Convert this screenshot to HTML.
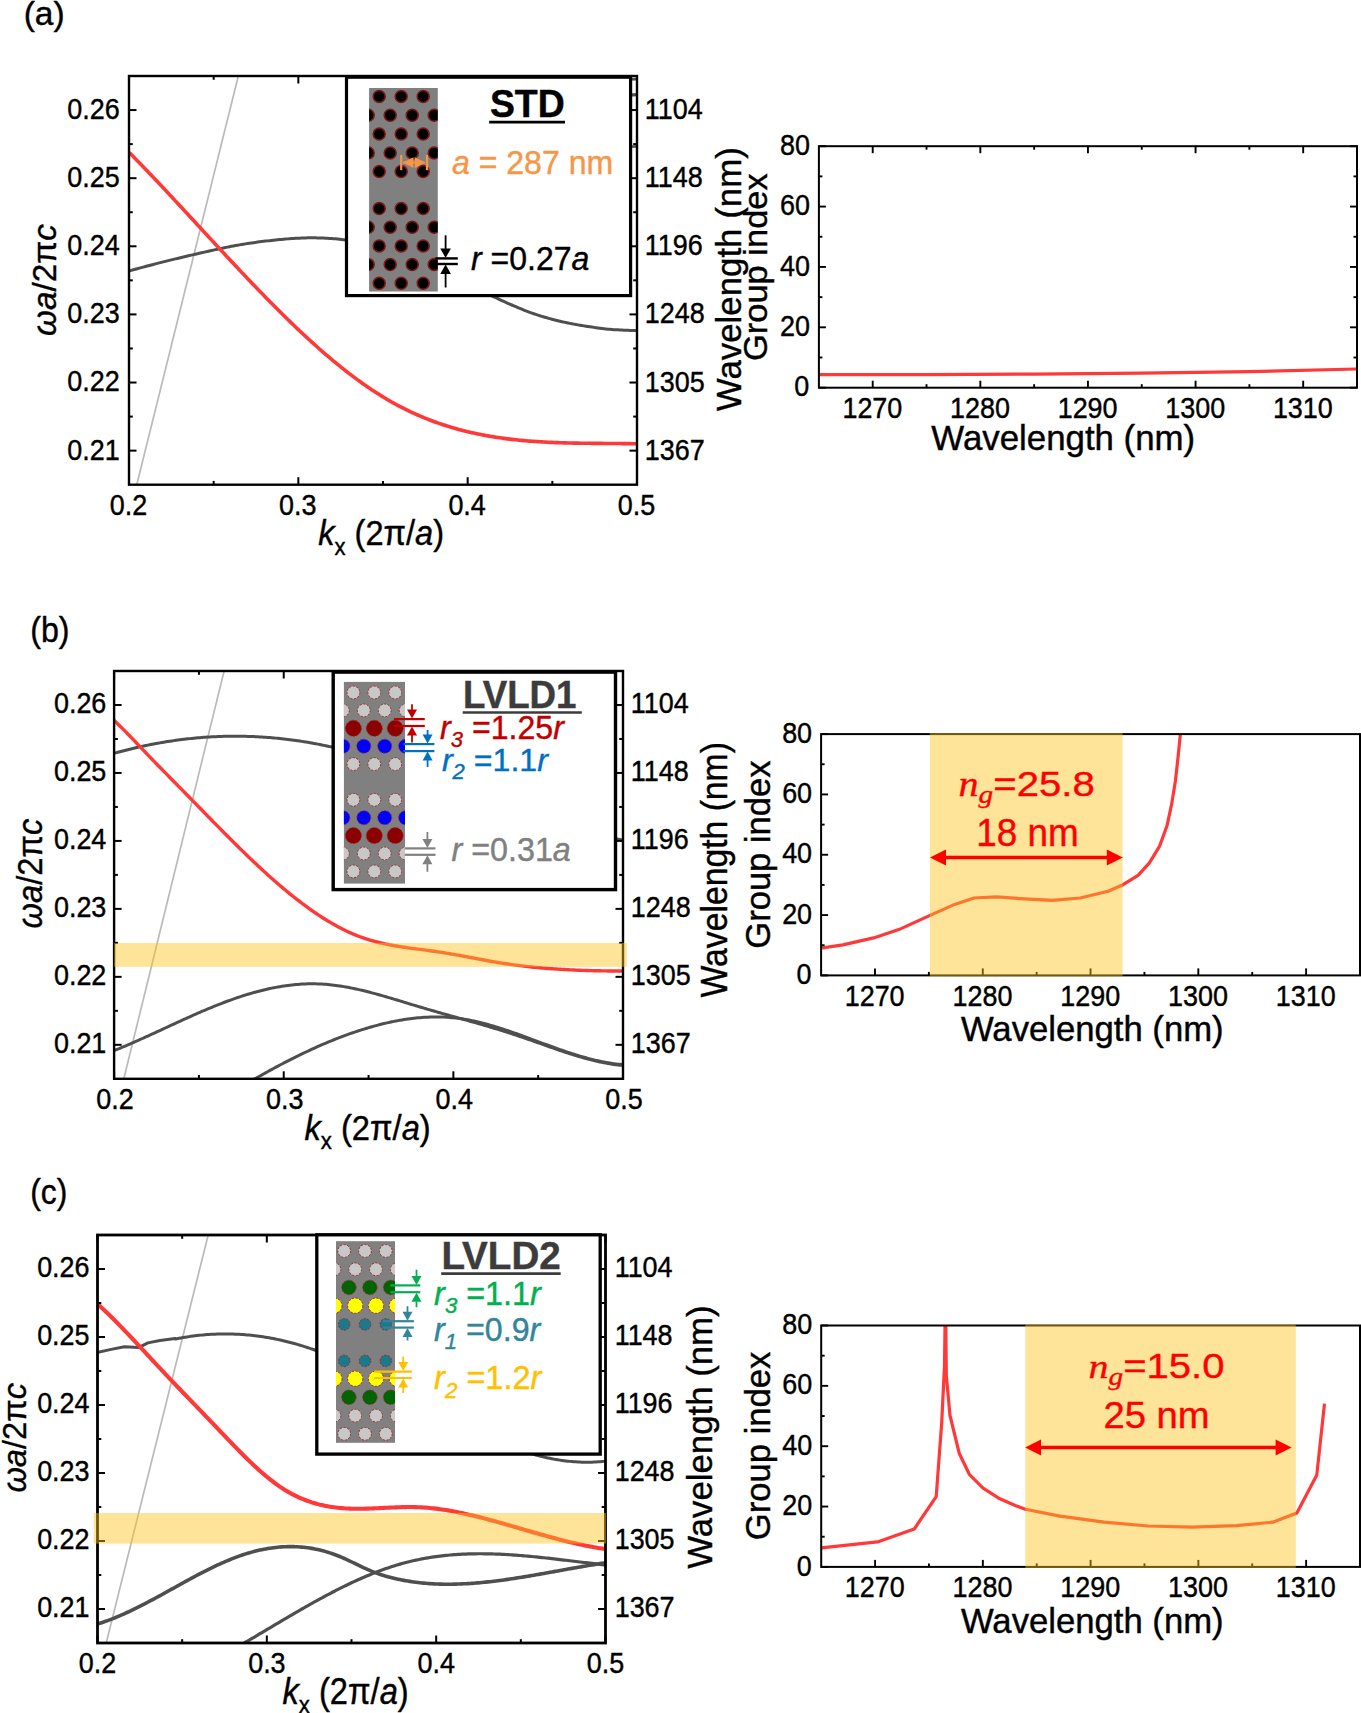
<!DOCTYPE html>
<html><head><meta charset="utf-8"><style>
html,body{margin:0;padding:0;background:#fff;overflow:hidden;}
svg{display:block;font-family:"Liberation Sans", sans-serif;}
</style></head><body>
<svg width="1361" height="1713" viewBox="0 0 1361 1713">
<rect width="1361" height="1713" fill="#fff"/>
<g transform="matrix(0.9868 0 0 1.0000 -272.33 -274.70)"><text stroke="#000" stroke-width="0.4" x="300" y="300" font-size="34">(a)</text></g>
<clipPath id="ca"><rect x="129" y="76" width="508" height="408.7"/></clipPath>
<g clip-path="url(#ca)">
<path d="M136.7 485 L238.3 76" fill="none" stroke="#bababa" stroke-width="1.7" stroke-linejoin="round"/>
<path d="M129.3 270.9 L131.3 270.34 L133.31 269.79 L135.31 269.24 L137.31 268.7 L139.31 268.15 L141.32 267.61 L143.32 267.08 L145.32 266.54 L147.32 266.01 L149.33 265.48 L151.33 264.96 L153.33 264.44 L155.34 263.92 L157.34 263.4 L159.34 262.89 L161.34 262.38 L163.35 261.88 L165.35 261.37 L167.35 260.87 L169.36 260.38 L171.36 259.88 L173.36 259.39 L175.36 258.91 L177.37 258.42 L179.37 257.94 L181.37 257.46 L183.37 256.99 L185.38 256.52 L187.38 256.05 L189.38 255.58 L191.39 255.12 L193.39 254.66 L195.39 254.21 L197.39 253.75 L199.4 253.29 L201.4 252.83 L203.4 252.37 L205.4 251.91 L207.41 251.46 L209.41 251.01 L211.41 250.55 L213.42 250.11 L215.42 249.66 L217.42 249.23 L219.42 248.79 L221.43 248.36 L223.43 247.94 L225.43 247.53 L227.44 247.12 L229.44 246.72 L231.44 246.33 L233.44 245.94 L235.45 245.57 L237.45 245.21 L239.45 244.86 L241.45 244.52 L243.46 244.19 L245.46 243.87 L247.46 243.56 L249.47 243.26 L251.47 242.96 L253.47 242.67 L255.47 242.39 L257.48 242.11 L259.48 241.85 L261.48 241.59 L263.48 241.34 L265.49 241.11 L267.49 240.88 L269.49 240.65 L271.5 240.44 L273.5 240.23 L275.5 240.02 L277.5 239.81 L279.51 239.61 L281.51 239.41 L283.51 239.22 L285.51 239.05 L287.52 238.88 L289.52 238.73 L291.52 238.59 L293.53 238.47 L295.53 238.37 L297.53 238.27 L299.53 238.17 L301.54 238.08 L303.54 237.99 L305.54 237.92 L307.55 237.86 L309.55 237.82 L311.55 237.8 L313.55 237.81 L315.56 237.83 L317.56 237.88 L319.56 237.94 L321.56 238.01 L323.57 238.1 L325.57 238.19 L327.57 238.28 L329.58 238.38 L331.58 238.52 L333.58 238.68 L335.58 238.86 L337.59 239.07 L339.59 239.29 L341.59 239.53 L343.59 239.78 L345.6 240.04 L347.6 240.31 L349.6 240.61 L351.61 240.92 L353.61 241.26 L355.61 241.61 L357.61 241.98 L359.62 242.37 L361.62 242.78 L363.62 243.21 L365.63 243.65 L367.63 244.1 L369.63 244.57 L371.63 245.05 L373.64 245.55 L375.64 246.06 L377.64 246.58 L379.64 247.11 L381.65 247.65 L383.65 248.2 L385.65 248.77 L387.66 249.34 L389.66 249.91 L391.66 250.5 L393.66 251.09 L395.67 251.69 L397.67 252.29 L399.67 252.9 L401.67 253.52 L403.68 254.17 L405.68 254.85 L407.68 255.55 L409.69 256.27 L411.69 257.02 L413.69 257.79 L415.69 258.59 L417.7 259.4 L419.7 260.23 L421.7 261.07 L423.71 261.93 L425.71 262.8 L427.71 263.69 L429.71 264.59 L431.72 265.5 L433.72 266.41 L435.72 267.33 L437.72 268.26 L439.73 269.2 L441.73 270.13 L443.73 271.07 L445.74 272.01 L447.74 272.94 L449.74 273.88 L451.74 274.82 L453.75 275.79 L455.75 276.78 L457.75 277.79 L459.75 278.82 L461.76 279.86 L463.76 280.92 L465.76 281.99 L467.77 283.07 L469.77 284.15 L471.77 285.24 L473.77 286.33 L475.78 287.42 L477.78 288.51 L479.78 289.59 L481.79 290.66 L483.79 291.73 L485.79 292.78 L487.79 293.82 L489.8 294.84 L491.8 295.84 L493.8 296.82 L495.8 297.77 L497.81 298.72 L499.81 299.65 L501.81 300.57 L503.82 301.48 L505.82 302.38 L507.82 303.27 L509.82 304.14 L511.83 305 L513.83 305.85 L515.83 306.7 L517.83 307.55 L519.84 308.38 L521.84 309.21 L523.84 310.03 L525.85 310.82 L527.85 311.6 L529.85 312.35 L531.85 313.07 L533.86 313.76 L535.86 314.43 L537.86 315.09 L539.86 315.73 L541.87 316.35 L543.87 316.95 L545.87 317.54 L547.88 318.11 L549.88 318.66 L551.88 319.2 L553.88 319.71 L555.89 320.22 L557.89 320.72 L559.89 321.2 L561.9 321.67 L563.9 322.12 L565.9 322.56 L567.9 322.98 L569.91 323.39 L571.91 323.77 L573.91 324.15 L575.91 324.51 L577.92 324.87 L579.92 325.21 L581.92 325.54 L583.93 325.86 L585.93 326.17 L587.93 326.48 L589.93 326.78 L591.94 327.07 L593.94 327.37 L595.94 327.68 L597.94 327.97 L599.95 328.26 L601.95 328.53 L603.95 328.77 L605.96 329 L607.96 329.2 L609.96 329.36 L611.96 329.5 L613.97 329.64 L615.97 329.76 L617.97 329.87 L619.98 329.98 L621.98 330.07 L623.98 330.16 L625.98 330.24 L627.99 330.31 L629.99 330.38 L631.99 330.45 L633.99 330.51 L636 330.56 L638 330.6" fill="none" stroke="#4f4f4f" stroke-width="3" stroke-linejoin="round"/>
<path d="M129.3 152.51 L131.3 154.54 L133.31 156.59 L135.31 158.64 L137.31 160.69 L139.31 162.76 L141.32 164.83 L143.32 166.9 L145.32 168.99 L147.32 171.08 L149.33 173.18 L151.33 175.28 L153.33 177.38 L155.34 179.5 L157.34 181.61 L159.34 183.74 L161.34 185.86 L163.35 188 L165.35 190.13 L167.35 192.27 L169.36 194.41 L171.36 196.56 L173.36 198.71 L175.36 200.86 L177.37 203.02 L179.37 205.18 L181.37 207.34 L183.37 209.5 L185.38 211.66 L187.38 213.83 L189.38 216 L191.39 218.17 L193.39 220.34 L195.39 222.51 L197.39 224.68 L199.4 226.85 L201.4 229.02 L203.4 231.19 L205.4 233.36 L207.41 235.53 L209.41 237.7 L211.41 239.87 L213.42 242.04 L215.42 244.2 L217.42 246.37 L219.42 248.53 L221.43 250.69 L223.43 252.84 L225.43 255 L227.44 257.15 L229.44 259.3 L231.44 261.44 L233.44 263.58 L235.45 265.72 L237.45 267.85 L239.45 269.98 L241.45 272.11 L243.46 274.23 L245.46 276.34 L247.46 278.45 L249.47 280.55 L251.47 282.65 L253.47 284.75 L255.47 286.83 L257.48 288.91 L259.48 290.99 L261.48 293.05 L263.48 295.11 L265.49 297.17 L267.49 299.21 L269.49 301.25 L271.5 303.28 L273.5 305.3 L275.5 307.31 L277.5 309.32 L279.51 311.32 L281.51 313.3 L283.51 315.28 L285.51 317.25 L287.52 319.21 L289.52 321.15 L291.52 323.09 L293.53 325.02 L295.53 326.94 L297.53 328.84 L299.53 330.74 L301.54 332.62 L303.54 334.5 L305.54 336.36 L307.55 338.21 L309.55 340.04 L311.55 341.87 L313.55 343.68 L315.56 345.48 L317.56 347.26 L319.56 349.03 L321.56 350.79 L323.57 352.54 L325.57 354.27 L327.57 355.98 L329.58 357.68 L331.58 359.37 L333.58 361.04 L335.58 362.7 L337.59 364.34 L339.59 365.97 L341.59 367.58 L343.59 369.17 L345.6 370.75 L347.6 372.31 L349.6 373.86 L351.61 375.38 L353.61 376.89 L355.61 378.39 L357.61 379.86 L359.62 381.32 L361.62 382.76 L363.62 384.18 L365.63 385.58 L367.63 386.96 L369.63 388.33 L371.63 389.67 L373.64 391 L375.64 392.3 L377.64 393.59 L379.64 394.85 L381.65 396.1 L383.65 397.32 L385.65 398.53 L387.66 399.71 L389.66 400.87 L391.66 402.01 L393.66 403.13 L395.67 404.23 L397.67 405.31 L399.67 406.37 L401.67 407.41 L403.68 408.42 L405.68 409.42 L407.68 410.4 L409.69 411.36 L411.69 412.31 L413.69 413.23 L415.69 414.13 L417.7 415.02 L419.7 415.88 L421.7 416.73 L423.71 417.56 L425.71 418.38 L427.71 419.17 L429.71 419.95 L431.72 420.71 L433.72 421.46 L435.72 422.19 L437.72 422.9 L439.73 423.59 L441.73 424.27 L443.73 424.93 L445.74 425.58 L447.74 426.21 L449.74 426.83 L451.74 427.43 L453.75 428.02 L455.75 428.59 L457.75 429.14 L459.75 429.69 L461.76 430.22 L463.76 430.73 L465.76 431.23 L467.77 431.72 L469.77 432.19 L471.77 432.65 L473.77 433.1 L475.78 433.53 L477.78 433.95 L479.78 434.36 L481.79 434.76 L483.79 435.14 L485.79 435.52 L487.79 435.88 L489.8 436.23 L491.8 436.56 L493.8 436.89 L495.8 437.21 L497.81 437.51 L499.81 437.81 L501.81 438.09 L503.82 438.37 L505.82 438.63 L507.82 438.89 L509.82 439.13 L511.83 439.37 L513.83 439.59 L515.83 439.81 L517.83 440.02 L519.84 440.22 L521.84 440.41 L523.84 440.6 L525.85 440.77 L527.85 440.94 L529.85 441.1 L531.85 441.25 L533.86 441.4 L535.86 441.54 L537.86 441.67 L539.86 441.79 L541.87 441.91 L543.87 442.03 L545.87 442.13 L547.88 442.23 L549.88 442.33 L551.88 442.42 L553.88 442.5 L555.89 442.58 L557.89 442.65 L559.89 442.72 L561.9 442.79 L563.9 442.85 L565.9 442.9 L567.9 442.95 L569.91 443 L571.91 443.05 L573.91 443.09 L575.91 443.13 L577.92 443.16 L579.92 443.19 L581.92 443.22 L583.93 443.25 L585.93 443.28 L587.93 443.3 L589.93 443.32 L591.94 443.34 L593.94 443.36 L595.94 443.38 L597.94 443.39 L599.95 443.41 L601.95 443.42 L603.95 443.44 L605.96 443.45 L607.96 443.46 L609.96 443.48 L611.96 443.49 L613.97 443.51 L615.97 443.52 L617.97 443.54 L619.98 443.56 L621.98 443.58 L623.98 443.6 L625.98 443.62 L627.99 443.64 L629.99 443.67 L631.99 443.69 L633.99 443.72 L636 443.76 L638 443.79" fill="none" stroke="#ff3838" stroke-width="3.6" stroke-linejoin="round"/>
<path d="M600 80 L640 79" fill="none" stroke="#4f4f4f" stroke-width="2.6" stroke-linejoin="round"/>
<path d="M600 97 L640 94.5" fill="none" stroke="#4f4f4f" stroke-width="3.2" stroke-linejoin="round"/>
<path d="M600 147 L640 146.4" fill="none" stroke="#4f4f4f" stroke-width="2.6" stroke-linejoin="round"/>
</g>
<line x1="129" y1="450.64" x2="136.5" y2="450.64" stroke="#000" stroke-width="2"/>
<line x1="637" y1="450.64" x2="629.5" y2="450.64" stroke="#000" stroke-width="2"/>
<line x1="129" y1="416.58" x2="132.8" y2="416.58" stroke="#000" stroke-width="2"/>
<line x1="637" y1="416.58" x2="633.2" y2="416.58" stroke="#000" stroke-width="2"/>
<line x1="129" y1="382.53" x2="136.5" y2="382.53" stroke="#000" stroke-width="2"/>
<line x1="637" y1="382.53" x2="629.5" y2="382.53" stroke="#000" stroke-width="2"/>
<line x1="129" y1="348.47" x2="132.8" y2="348.47" stroke="#000" stroke-width="2"/>
<line x1="637" y1="348.47" x2="633.2" y2="348.47" stroke="#000" stroke-width="2"/>
<line x1="129" y1="314.41" x2="136.5" y2="314.41" stroke="#000" stroke-width="2"/>
<line x1="637" y1="314.41" x2="629.5" y2="314.41" stroke="#000" stroke-width="2"/>
<line x1="129" y1="280.35" x2="132.8" y2="280.35" stroke="#000" stroke-width="2"/>
<line x1="637" y1="280.35" x2="633.2" y2="280.35" stroke="#000" stroke-width="2"/>
<line x1="129" y1="246.29" x2="136.5" y2="246.29" stroke="#000" stroke-width="2"/>
<line x1="637" y1="246.29" x2="629.5" y2="246.29" stroke="#000" stroke-width="2"/>
<line x1="129" y1="212.23" x2="132.8" y2="212.23" stroke="#000" stroke-width="2"/>
<line x1="637" y1="212.23" x2="633.2" y2="212.23" stroke="#000" stroke-width="2"/>
<line x1="129" y1="178.18" x2="136.5" y2="178.18" stroke="#000" stroke-width="2"/>
<line x1="637" y1="178.18" x2="629.5" y2="178.18" stroke="#000" stroke-width="2"/>
<line x1="129" y1="144.12" x2="132.8" y2="144.12" stroke="#000" stroke-width="2"/>
<line x1="637" y1="144.12" x2="633.2" y2="144.12" stroke="#000" stroke-width="2"/>
<line x1="129" y1="110.06" x2="136.5" y2="110.06" stroke="#000" stroke-width="2"/>
<line x1="637" y1="110.06" x2="629.5" y2="110.06" stroke="#000" stroke-width="2"/>
<line x1="129" y1="76" x2="132.8" y2="76" stroke="#000" stroke-width="2"/>
<line x1="637" y1="76" x2="633.2" y2="76" stroke="#000" stroke-width="2"/>
<line x1="129" y1="484.7" x2="129" y2="477.2" stroke="#000" stroke-width="2"/>
<line x1="129" y1="76" x2="129" y2="83.5" stroke="#000" stroke-width="2"/>
<line x1="213.67" y1="484.7" x2="213.67" y2="480.9" stroke="#000" stroke-width="2"/>
<line x1="213.67" y1="76" x2="213.67" y2="79.8" stroke="#000" stroke-width="2"/>
<line x1="298.33" y1="484.7" x2="298.33" y2="477.2" stroke="#000" stroke-width="2"/>
<line x1="298.33" y1="76" x2="298.33" y2="83.5" stroke="#000" stroke-width="2"/>
<line x1="383" y1="484.7" x2="383" y2="480.9" stroke="#000" stroke-width="2"/>
<line x1="383" y1="76" x2="383" y2="79.8" stroke="#000" stroke-width="2"/>
<line x1="467.67" y1="484.7" x2="467.67" y2="477.2" stroke="#000" stroke-width="2"/>
<line x1="467.67" y1="76" x2="467.67" y2="83.5" stroke="#000" stroke-width="2"/>
<line x1="552.33" y1="484.7" x2="552.33" y2="480.9" stroke="#000" stroke-width="2"/>
<line x1="552.33" y1="76" x2="552.33" y2="79.8" stroke="#000" stroke-width="2"/>
<line x1="637" y1="484.7" x2="637" y2="477.2" stroke="#000" stroke-width="2"/>
<line x1="637" y1="76" x2="637" y2="83.5" stroke="#000" stroke-width="2"/>
<rect x="129" y="76" width="508" height="408.7" fill="none" stroke="#000" stroke-width="2.4"/>
<g transform="matrix(0.9620 0 0 1.0580 -221.35 142.19)"><text stroke="#000" stroke-width="0.4" x="300" y="300" font-size="28">0.21</text></g>
<g transform="matrix(0.9620 0 0 1.0580 -221.35 74.08)"><text stroke="#000" stroke-width="0.4" x="300" y="300" font-size="28">0.22</text></g>
<g transform="matrix(0.9620 0 0 1.0580 -221.35 5.96)"><text stroke="#000" stroke-width="0.4" x="300" y="300" font-size="28">0.23</text></g>
<g transform="matrix(0.9620 0 0 1.0580 -221.35 -62.16)"><text stroke="#000" stroke-width="0.4" x="300" y="300" font-size="28">0.24</text></g>
<g transform="matrix(0.9620 0 0 1.0580 -221.35 -130.27)"><text stroke="#000" stroke-width="0.4" x="300" y="300" font-size="28">0.25</text></g>
<g transform="matrix(0.9620 0 0 1.0580 -221.35 -198.39)"><text stroke="#000" stroke-width="0.4" x="300" y="300" font-size="28">0.26</text></g>
<g transform="matrix(0.9620 0 0 1.0580 356.18 142.29)"><text stroke="#000" stroke-width="0.4" x="300" y="300" font-size="28">1367</text></g>
<g transform="matrix(0.9620 0 0 1.0580 356.18 74.18)"><text stroke="#000" stroke-width="0.4" x="300" y="300" font-size="28">1305</text></g>
<g transform="matrix(0.9620 0 0 1.0580 356.18 6.06)"><text stroke="#000" stroke-width="0.4" x="300" y="300" font-size="28">1248</text></g>
<g transform="matrix(0.9620 0 0 1.0580 356.18 -62.06)"><text stroke="#000" stroke-width="0.4" x="300" y="300" font-size="28">1196</text></g>
<g transform="matrix(0.9620 0 0 1.0580 356.18 -130.17)"><text stroke="#000" stroke-width="0.4" x="300" y="300" font-size="28">1148</text></g>
<g transform="matrix(0.9620 0 0 1.0580 356.18 -198.29)"><text stroke="#000" stroke-width="0.4" x="300" y="300" font-size="28">1104</text></g>
<g transform="matrix(0.9620 0 0 1.0580 -178.86 197.70)"><text stroke="#000" stroke-width="0.4" x="300" y="300" font-size="28">0.2</text></g>
<g transform="matrix(0.9620 0 0 1.0580 -9.53 197.70)"><text stroke="#000" stroke-width="0.4" x="300" y="300" font-size="28">0.3</text></g>
<g transform="matrix(0.9620 0 0 1.0580 159.81 197.70)"><text stroke="#000" stroke-width="0.4" x="300" y="300" font-size="28">0.4</text></g>
<g transform="matrix(0.9620 0 0 1.0580 329.14 197.70)"><text stroke="#000" stroke-width="0.4" x="300" y="300" font-size="28">0.5</text></g>
<g transform="matrix(0.9585 0 0 1.0515 30.66 229.78)"><text stroke="#000" stroke-width="0.4" x="300" y="300" font-size="34"><tspan font-style="italic">k</tspan><tspan font-size="23" dy="9">x</tspan><tspan dy="-9"> (2π/</tspan><tspan font-style="italic">a</tspan>)</text></g>
<g transform="matrix(0.9481 0 0 0.9252 -228.34 58.36)"><text stroke="#000" stroke-width="0.4" x="300" y="300" font-size="36" transform="rotate(-90 300 300)"><tspan font-style="italic">ωa</tspan>/2π<tspan font-style="italic">c</tspan></text></g>
<rect x="346.5" y="77.2" width="284.1" height="218.4" fill="#fff" stroke="#000" stroke-width="3.2"/>
<clipPath id="pcA"><rect x="369.1" y="88" width="68.7" height="203.5"/></clipPath>
<rect x="369.1" y="88" width="68.7" height="203.5" fill="#808080"/>
<g clip-path="url(#pcA)">
<circle cx="379.2" cy="96.4" r="6" fill="#000" stroke="#801818" stroke-width="1.5"/>
<circle cx="401.2" cy="96.4" r="6" fill="#000" stroke="#801818" stroke-width="1.5"/>
<circle cx="423.2" cy="96.4" r="6" fill="#000" stroke="#801818" stroke-width="1.5"/>
<circle cx="368.2" cy="115.2" r="6" fill="#000" stroke="#801818" stroke-width="1.5"/>
<circle cx="390.2" cy="115.2" r="6" fill="#000" stroke="#801818" stroke-width="1.5"/>
<circle cx="412.2" cy="115.2" r="6" fill="#000" stroke="#801818" stroke-width="1.5"/>
<circle cx="434.2" cy="115.2" r="6" fill="#000" stroke="#801818" stroke-width="1.5"/>
<circle cx="379.2" cy="134.1" r="6" fill="#000" stroke="#801818" stroke-width="1.5"/>
<circle cx="401.2" cy="134.1" r="6" fill="#000" stroke="#801818" stroke-width="1.5"/>
<circle cx="423.2" cy="134.1" r="6" fill="#000" stroke="#801818" stroke-width="1.5"/>
<circle cx="368.2" cy="152.9" r="6" fill="#000" stroke="#801818" stroke-width="1.5"/>
<circle cx="390.2" cy="152.9" r="6" fill="#000" stroke="#801818" stroke-width="1.5"/>
<circle cx="412.2" cy="152.9" r="6" fill="#000" stroke="#801818" stroke-width="1.5"/>
<circle cx="434.2" cy="152.9" r="6" fill="#000" stroke="#801818" stroke-width="1.5"/>
<circle cx="379.2" cy="171.6" r="6" fill="#000" stroke="#801818" stroke-width="1.5"/>
<circle cx="401.2" cy="171.6" r="6" fill="#000" stroke="#801818" stroke-width="1.5"/>
<circle cx="423.2" cy="171.6" r="6" fill="#000" stroke="#801818" stroke-width="1.5"/>
<circle cx="379.2" cy="208.6" r="6" fill="#000" stroke="#801818" stroke-width="1.5"/>
<circle cx="401.2" cy="208.6" r="6" fill="#000" stroke="#801818" stroke-width="1.5"/>
<circle cx="423.2" cy="208.6" r="6" fill="#000" stroke="#801818" stroke-width="1.5"/>
<circle cx="368.2" cy="227.2" r="6" fill="#000" stroke="#801818" stroke-width="1.5"/>
<circle cx="390.2" cy="227.2" r="6" fill="#000" stroke="#801818" stroke-width="1.5"/>
<circle cx="412.2" cy="227.2" r="6" fill="#000" stroke="#801818" stroke-width="1.5"/>
<circle cx="434.2" cy="227.2" r="6" fill="#000" stroke="#801818" stroke-width="1.5"/>
<circle cx="379.2" cy="245.9" r="6" fill="#000" stroke="#801818" stroke-width="1.5"/>
<circle cx="401.2" cy="245.9" r="6" fill="#000" stroke="#801818" stroke-width="1.5"/>
<circle cx="423.2" cy="245.9" r="6" fill="#000" stroke="#801818" stroke-width="1.5"/>
<circle cx="368.2" cy="264.6" r="6" fill="#000" stroke="#801818" stroke-width="1.5"/>
<circle cx="390.2" cy="264.6" r="6" fill="#000" stroke="#801818" stroke-width="1.5"/>
<circle cx="412.2" cy="264.6" r="6" fill="#000" stroke="#801818" stroke-width="1.5"/>
<circle cx="434.2" cy="264.6" r="6" fill="#000" stroke="#801818" stroke-width="1.5"/>
<circle cx="379.2" cy="283.2" r="6" fill="#000" stroke="#801818" stroke-width="1.5"/>
<circle cx="401.2" cy="283.2" r="6" fill="#000" stroke="#801818" stroke-width="1.5"/>
<circle cx="423.2" cy="283.2" r="6" fill="#000" stroke="#801818" stroke-width="1.5"/>
</g>
<g transform="matrix(1.0111 0 0 1.0692 186.56 -203.37)"><text stroke="#000" stroke-width="0.4" x="300" y="300" font-size="37" font-weight="bold">STD</text></g>
<line x1="489.2" y1="122.1" x2="565" y2="122.1" stroke="#000" stroke-width="2.7"/>
<g transform="matrix(1.0025 0 0 1.0545 151.15 -142.06)"><text stroke="#f79646" stroke-width="0.4" x="300" y="300" font-size="32" fill="#f79646"><tspan font-style="italic">a</tspan> = 287 nm</text></g>
<line x1="403" y1="162.6" x2="425" y2="162.6" stroke="#f79646" stroke-width="1.8"/>
<line x1="401.2" y1="155" x2="401.2" y2="170.2" stroke="#f79646" stroke-width="2.2"/>
<line x1="427" y1="155" x2="427" y2="170.2" stroke="#f79646" stroke-width="2.2"/>
<path d="M402.8 162.6 L413.4 157.2 L413.4 168Z" fill="#f79646"/>
<path d="M425.4 162.6 L414.8 157.2 L414.8 168Z" fill="#f79646"/>
<g transform="matrix(1.0000 0 0 1.0500 171.00 -44.70)"><text stroke="#000" stroke-width="0.4" x="300" y="300" font-size="32"><tspan font-style="italic">r</tspan> =0.27<tspan font-style="italic">a</tspan></text></g>
<line x1="435.3" y1="258.4" x2="457.8" y2="258.4" stroke="#000" stroke-width="2.4"/>
<line x1="435.3" y1="264" x2="457.8" y2="264" stroke="#000" stroke-width="2.4"/>
<line x1="445.6" y1="235.3" x2="445.6" y2="248.9" stroke="#000" stroke-width="1.8"/>
<line x1="445.6" y1="273.5" x2="445.6" y2="287.5" stroke="#000" stroke-width="1.8"/>
<path d="M445.6 257.9 L440.3 248.4 L450.9 248.4Z" fill="#000"/>
<path d="M445.6 264.5 L440.3 274 L450.9 274Z" fill="#000"/>
<clipPath id="ra"><rect x="818.9" y="146.2" width="538.1" height="241.5"/></clipPath>
<g clip-path="url(#ra)">
<path d="M818.9 374.72 L926.52 374.57 L1034.14 374.12 L1141.76 373.21 L1249.38 371.7 L1357 368.98" fill="none" stroke="#ff3838" stroke-width="3.2" stroke-linejoin="round"/>
</g>
<line x1="818.9" y1="387.7" x2="825.9" y2="387.7" stroke="#000" stroke-width="1.9"/>
<line x1="1357" y1="387.7" x2="1350" y2="387.7" stroke="#000" stroke-width="1.9"/>
<line x1="818.9" y1="357.51" x2="822.4" y2="357.51" stroke="#000" stroke-width="1.9"/>
<line x1="1357" y1="357.51" x2="1353.5" y2="357.51" stroke="#000" stroke-width="1.9"/>
<line x1="818.9" y1="327.32" x2="825.9" y2="327.32" stroke="#000" stroke-width="1.9"/>
<line x1="1357" y1="327.32" x2="1350" y2="327.32" stroke="#000" stroke-width="1.9"/>
<line x1="818.9" y1="297.14" x2="822.4" y2="297.14" stroke="#000" stroke-width="1.9"/>
<line x1="1357" y1="297.14" x2="1353.5" y2="297.14" stroke="#000" stroke-width="1.9"/>
<line x1="818.9" y1="266.95" x2="825.9" y2="266.95" stroke="#000" stroke-width="1.9"/>
<line x1="1357" y1="266.95" x2="1350" y2="266.95" stroke="#000" stroke-width="1.9"/>
<line x1="818.9" y1="236.76" x2="822.4" y2="236.76" stroke="#000" stroke-width="1.9"/>
<line x1="1357" y1="236.76" x2="1353.5" y2="236.76" stroke="#000" stroke-width="1.9"/>
<line x1="818.9" y1="206.57" x2="825.9" y2="206.57" stroke="#000" stroke-width="1.9"/>
<line x1="1357" y1="206.57" x2="1350" y2="206.57" stroke="#000" stroke-width="1.9"/>
<line x1="818.9" y1="176.39" x2="822.4" y2="176.39" stroke="#000" stroke-width="1.9"/>
<line x1="1357" y1="176.39" x2="1353.5" y2="176.39" stroke="#000" stroke-width="1.9"/>
<line x1="818.9" y1="146.2" x2="825.9" y2="146.2" stroke="#000" stroke-width="1.9"/>
<line x1="1357" y1="146.2" x2="1350" y2="146.2" stroke="#000" stroke-width="1.9"/>
<line x1="872.71" y1="387.7" x2="872.71" y2="380.7" stroke="#000" stroke-width="1.9"/>
<line x1="872.71" y1="146.2" x2="872.71" y2="153.2" stroke="#000" stroke-width="1.9"/>
<line x1="926.52" y1="387.7" x2="926.52" y2="384.2" stroke="#000" stroke-width="1.9"/>
<line x1="926.52" y1="146.2" x2="926.52" y2="149.7" stroke="#000" stroke-width="1.9"/>
<line x1="980.33" y1="387.7" x2="980.33" y2="380.7" stroke="#000" stroke-width="1.9"/>
<line x1="980.33" y1="146.2" x2="980.33" y2="153.2" stroke="#000" stroke-width="1.9"/>
<line x1="1034.14" y1="387.7" x2="1034.14" y2="384.2" stroke="#000" stroke-width="1.9"/>
<line x1="1034.14" y1="146.2" x2="1034.14" y2="149.7" stroke="#000" stroke-width="1.9"/>
<line x1="1087.95" y1="387.7" x2="1087.95" y2="380.7" stroke="#000" stroke-width="1.9"/>
<line x1="1087.95" y1="146.2" x2="1087.95" y2="153.2" stroke="#000" stroke-width="1.9"/>
<line x1="1141.76" y1="387.7" x2="1141.76" y2="384.2" stroke="#000" stroke-width="1.9"/>
<line x1="1141.76" y1="146.2" x2="1141.76" y2="149.7" stroke="#000" stroke-width="1.9"/>
<line x1="1195.57" y1="387.7" x2="1195.57" y2="380.7" stroke="#000" stroke-width="1.9"/>
<line x1="1195.57" y1="146.2" x2="1195.57" y2="153.2" stroke="#000" stroke-width="1.9"/>
<line x1="1249.38" y1="387.7" x2="1249.38" y2="384.2" stroke="#000" stroke-width="1.9"/>
<line x1="1249.38" y1="146.2" x2="1249.38" y2="149.7" stroke="#000" stroke-width="1.9"/>
<line x1="1303.19" y1="387.7" x2="1303.19" y2="380.7" stroke="#000" stroke-width="1.9"/>
<line x1="1303.19" y1="146.2" x2="1303.19" y2="153.2" stroke="#000" stroke-width="1.9"/>
<rect x="818.9" y="146.2" width="538.1" height="241.5" fill="none" stroke="#000" stroke-width="2"/>
<g transform="matrix(0.9620 0 0 1.0580 505.77 78.95)"><text stroke="#000" stroke-width="0.4" x="300" y="300" font-size="28">0</text></g>
<g transform="matrix(0.9620 0 0 1.0580 491.34 18.58)"><text stroke="#000" stroke-width="0.4" x="300" y="300" font-size="28">20</text></g>
<g transform="matrix(0.9620 0 0 1.0580 491.34 -41.80)"><text stroke="#000" stroke-width="0.4" x="300" y="300" font-size="28">40</text></g>
<g transform="matrix(0.9620 0 0 1.0580 491.34 -102.17)"><text stroke="#000" stroke-width="0.4" x="300" y="300" font-size="28">60</text></g>
<g transform="matrix(0.9620 0 0 1.0580 491.34 -162.55)"><text stroke="#000" stroke-width="0.4" x="300" y="300" font-size="28">80</text></g>
<g transform="matrix(0.9620 0 0 1.0580 553.83 100.60)"><text stroke="#000" stroke-width="0.4" x="300" y="300" font-size="28">1270</text></g>
<g transform="matrix(0.9620 0 0 1.0580 661.45 100.60)"><text stroke="#000" stroke-width="0.4" x="300" y="300" font-size="28">1280</text></g>
<g transform="matrix(0.9620 0 0 1.0580 769.07 100.60)"><text stroke="#000" stroke-width="0.4" x="300" y="300" font-size="28">1290</text></g>
<g transform="matrix(0.9620 0 0 1.0580 876.69 100.60)"><text stroke="#000" stroke-width="0.4" x="300" y="300" font-size="28">1300</text></g>
<g transform="matrix(0.9620 0 0 1.0580 984.31 100.60)"><text stroke="#000" stroke-width="0.4" x="300" y="300" font-size="28">1310</text></g>
<g transform="matrix(1.0246 0 0 1.0226 623.92 142.77)"><text stroke="#000" stroke-width="0.4" x="300" y="300" font-size="34">Wavelength (nm)</text></g>
<g transform="matrix(1.0161 0 0 1.0251 435.85 -203.86)"><text stroke="#000" stroke-width="0.4" x="300" y="600" font-size="34" transform="rotate(-90 300 600)">Wavelength (nm)</text></g>
<g transform="matrix(0.9742 0 0 1.0131 475.22 -246.94)"><text stroke="#000" stroke-width="0.4" x="300" y="600" font-size="34" transform="rotate(-90 300 600)">Group index</text></g>
<g transform="matrix(0.9474 0 0 1.0290 -254.01 332.89)"><text stroke="#000" stroke-width="0.4" x="300" y="300" font-size="34">(b)</text></g>
<clipPath id="cb"><rect x="114.1" y="671" width="508.9" height="407.8"/></clipPath>
<g clip-path="url(#cb)">
<path d="M123.8 1078.8 L224.1 671" fill="none" stroke="#bababa" stroke-width="1.7" stroke-linejoin="round"/>
<path d="M113.8 753.42 L115.8 752.86 L117.8 752.31 L119.8 751.76 L121.8 751.23 L123.8 750.71 L125.8 750.19 L127.81 749.68 L129.81 749.19 L131.81 748.7 L133.81 748.22 L135.81 747.75 L137.81 747.29 L139.81 746.84 L141.81 746.4 L143.81 745.97 L145.81 745.55 L147.81 745.14 L149.81 744.73 L151.81 744.34 L153.82 743.96 L155.82 743.58 L157.82 743.21 L159.82 742.86 L161.82 742.51 L163.82 742.17 L165.82 741.84 L167.82 741.52 L169.82 741.21 L171.82 740.91 L173.82 740.62 L175.82 740.34 L177.83 740.07 L179.83 739.8 L181.83 739.55 L183.83 739.3 L185.83 739.07 L187.83 738.84 L189.83 738.63 L191.83 738.42 L193.83 738.22 L195.83 738.03 L197.83 737.85 L199.83 737.68 L201.83 737.52 L203.84 737.37 L205.84 737.23 L207.84 737.1 L209.84 736.97 L211.84 736.86 L213.84 736.75 L215.84 736.66 L217.84 736.57 L219.84 736.49 L221.84 736.43 L223.84 736.37 L225.84 736.32 L227.84 736.28 L229.85 736.25 L231.85 736.23 L233.85 736.22 L235.85 736.22 L237.85 736.22 L239.85 736.24 L241.85 736.26 L243.85 736.3 L245.85 736.34 L247.85 736.4 L249.85 736.46 L251.85 736.53 L253.85 736.62 L255.86 736.71 L257.86 736.81 L259.86 736.92 L261.86 737.04 L263.86 737.16 L265.86 737.3 L267.86 737.45 L269.86 737.6 L271.86 737.77 L273.86 737.95 L275.86 738.13 L277.86 738.32 L279.87 738.53 L281.87 738.74 L283.87 738.96 L285.87 739.19 L287.87 739.43 L289.87 739.68 L291.87 739.94 L293.87 740.21 L295.87 740.49 L297.87 740.77 L299.87 741.07 L301.87 741.37 L303.87 741.69 L305.88 742.01 L307.88 742.35 L309.88 742.69 L311.88 743.04 L313.88 743.4 L315.88 743.77 L317.88 744.15 L319.88 744.54 L321.88 744.94 L323.88 745.35 L325.88 745.77 L327.88 746.19 L329.88 746.63 L331.89 747.08 L333.89 747.53 L335.89 747.99 L337.89 748.47 L339.89 748.95 L341.89 749.44 L343.89 749.94 L345.89 750.44 L347.89 750.96 L349.89 751.48 L351.89 752.01 L353.89 752.55 L355.89 753.1 L357.9 753.65 L359.9 754.21 L361.9 754.78 L363.9 755.36 L365.9 755.94 L367.9 756.53 L369.9 757.12 L371.9 757.73 L373.9 758.34 L375.9 758.95 L377.9 759.58 L379.9 760.2 L381.91 760.84 L383.91 761.48 L385.91 762.12 L387.91 762.77 L389.91 763.43 L391.91 764.09 L393.91 764.76 L395.91 765.43 L397.91 766.11 L399.91 766.79 L401.91 767.47 L403.91 768.16 L405.91 768.86 L407.92 769.56 L409.92 770.26 L411.92 770.97 L413.92 771.68 L415.92 772.39 L417.92 773.11 L419.92 773.83 L421.92 774.55 L423.92 775.28 L425.92 776.01 L427.92 776.74 L429.92 777.48 L431.92 778.22 L433.93 778.96 L435.93 779.7 L437.93 780.44 L439.93 781.19 L441.93 781.94 L443.93 782.69 L445.93 783.44 L447.93 784.2 L449.93 784.95 L451.93 785.71 L453.93 786.46 L455.93 787.22 L457.93 787.98 L459.94 788.74 L461.94 789.5 L463.94 790.26 L465.94 791.02 L467.94 791.78 L469.94 792.54 L471.94 793.3 L473.94 794.06 L475.94 794.82 L477.94 795.58 L479.94 796.34 L481.94 797.1 L483.95 797.85 L485.95 798.61 L487.95 799.36 L489.95 800.12 L491.95 800.87 L493.95 801.62 L495.95 802.36 L497.95 803.11 L499.95 803.85 L501.95 804.6 L503.95 805.34 L505.95 806.07 L507.95 806.81 L509.96 807.54 L511.96 808.27 L513.96 808.99 L515.96 809.71 L517.96 810.43 L519.96 811.15 L521.96 811.86 L523.96 812.57 L525.96 813.27 L527.96 813.97 L529.96 814.67 L531.96 815.36 L533.96 816.05 L535.97 816.73 L537.97 817.41 L539.97 818.09 L541.97 818.76 L543.97 819.42 L545.97 820.08 L547.97 820.73 L549.97 821.38 L551.97 822.02 L553.97 822.66 L555.97 823.29 L557.97 823.92 L559.97 824.53 L561.98 825.15 L563.98 825.75 L565.98 826.35 L567.98 826.95 L569.98 827.53 L571.98 828.11 L573.98 828.68 L575.98 829.25 L577.98 829.81 L579.98 830.36 L581.98 830.9 L583.98 831.43 L585.99 831.96 L587.99 832.48 L589.99 832.99 L591.99 833.49 L593.99 833.98 L595.99 834.47 L597.99 834.95 L599.99 835.41 L601.99 835.87 L603.99 836.32 L605.99 836.76 L607.99 837.19 L609.99 837.62 L612 838.03 L614 838.43 L616 838.82 L618 839.2 L620 839.58 L622 839.94 L624 840.29" fill="none" stroke="#4f4f4f" stroke-width="3" stroke-linejoin="round"/>
<path d="M113.8 1050.73 L115.8 1049.92 L117.8 1049.11 L119.8 1048.29 L121.8 1047.46 L123.8 1046.62 L125.8 1045.77 L127.81 1044.91 L129.81 1044.05 L131.81 1043.18 L133.81 1042.31 L135.81 1041.42 L137.81 1040.54 L139.81 1039.64 L141.81 1038.75 L143.81 1037.85 L145.81 1036.94 L147.81 1036.03 L149.81 1035.12 L151.81 1034.2 L153.82 1033.28 L155.82 1032.36 L157.82 1031.44 L159.82 1030.52 L161.82 1029.59 L163.82 1028.67 L165.82 1027.74 L167.82 1026.82 L169.82 1025.89 L171.82 1024.97 L173.82 1024.05 L175.82 1023.12 L177.83 1022.21 L179.83 1021.29 L181.83 1020.38 L183.83 1019.47 L185.83 1018.56 L187.83 1017.66 L189.83 1016.76 L191.83 1015.86 L193.83 1014.97 L195.83 1014.09 L197.83 1013.21 L199.83 1012.34 L201.83 1011.48 L203.84 1010.62 L205.84 1009.77 L207.84 1008.93 L209.84 1008.1 L211.84 1007.27 L213.84 1006.46 L215.84 1005.65 L217.84 1004.85 L219.84 1004.06 L221.84 1003.29 L223.84 1002.52 L225.84 1001.77 L227.84 1001.02 L229.85 1000.29 L231.85 999.57 L233.85 998.87 L235.85 998.17 L237.85 997.49 L239.85 996.83 L241.85 996.17 L243.85 995.53 L245.85 994.9 L247.85 994.29 L249.85 993.69 L251.85 993.11 L253.85 992.54 L255.86 991.99 L257.86 991.45 L259.86 990.93 L261.86 990.43 L263.86 989.94 L265.86 989.46 L267.86 989.01 L269.86 988.57 L271.86 988.15 L273.86 987.75 L275.86 987.36 L277.86 986.99 L279.87 986.65 L281.87 986.32 L283.87 986.01 L285.87 985.72 L287.87 985.44 L289.87 985.19 L291.87 984.96 L293.87 984.75 L295.87 984.56 L297.87 984.39 L299.87 984.24 L301.87 984.11 L303.87 984.01 L305.88 983.92 L307.88 983.86 L309.88 983.82 L311.88 983.81 L313.88 983.81 L315.88 983.84 L317.88 983.9 L319.88 983.98 L321.88 984.08 L323.88 984.2 L325.88 984.35 L327.88 984.52 L329.88 984.71 L331.89 984.93 L333.89 985.16 L335.89 985.42 L337.89 985.69 L339.89 985.99 L341.89 986.3 L343.89 986.63 L345.89 986.98 L347.89 987.34 L349.89 987.73 L351.89 988.12 L353.89 988.54 L355.89 988.96 L357.9 989.4 L359.9 989.86 L361.9 990.32 L363.9 990.8 L365.9 991.3 L367.9 991.8 L369.9 992.31 L371.9 992.84 L373.9 993.37 L375.9 993.91 L377.9 994.46 L379.9 995.02 L381.91 995.58 L383.91 996.16 L385.91 996.74 L387.91 997.32 L389.91 997.91 L391.91 998.5 L393.91 999.1 L395.91 999.7 L397.91 1000.3 L399.91 1000.91 L401.91 1001.52 L403.91 1002.13 L405.91 1002.73 L407.92 1003.34 L409.92 1003.95 L411.92 1004.56 L413.92 1005.17 L415.92 1005.77 L417.92 1006.37 L419.92 1006.97 L421.92 1007.56 L423.92 1008.15 L425.92 1008.74 L427.92 1009.32 L429.92 1009.9 L431.92 1010.48 L433.93 1011.05 L435.93 1011.62 L437.93 1012.2 L439.93 1012.76 L441.93 1013.33 L443.93 1013.9 L445.93 1014.46 L447.93 1015.02 L449.93 1015.59 L451.93 1016.15 L453.93 1016.71 L455.93 1017.27 L457.93 1017.84 L459.94 1018.4 L461.94 1018.96 L463.94 1019.52 L465.94 1020.09 L467.94 1020.65 L469.94 1021.22 L471.94 1021.79 L473.94 1022.36 L475.94 1022.93 L477.94 1023.51 L479.94 1024.08 L481.94 1024.66 L483.95 1025.25 L485.95 1025.83 L487.95 1026.42 L489.95 1027.02 L491.95 1027.61 L493.95 1028.21 L495.95 1028.82 L497.95 1029.43 L499.95 1030.04 L501.95 1030.66 L503.95 1031.28 L505.95 1031.91 L507.95 1032.55 L509.96 1033.19 L511.96 1033.84 L513.96 1034.49 L515.96 1035.15 L517.96 1035.81 L519.96 1036.49 L521.96 1037.16 L523.96 1037.85 L525.96 1038.54 L527.96 1039.23 L529.96 1039.93 L531.96 1040.63 L533.96 1041.34 L535.97 1042.05 L537.97 1042.75 L539.97 1043.46 L541.97 1044.17 L543.97 1044.88 L545.97 1045.59 L547.97 1046.29 L549.97 1047 L551.97 1047.7 L553.97 1048.39 L555.97 1049.09 L557.97 1049.77 L559.97 1050.46 L561.98 1051.13 L563.98 1051.8 L565.98 1052.46 L567.98 1053.12 L569.98 1053.76 L571.98 1054.4 L573.98 1055.02 L575.98 1055.64 L577.98 1056.24 L579.98 1056.83 L581.98 1057.41 L583.98 1057.98 L585.99 1058.53 L587.99 1059.07 L589.99 1059.59 L591.99 1060.09 L593.99 1060.58 L595.99 1061.06 L597.99 1061.51 L599.99 1061.95 L601.99 1062.37 L603.99 1062.77 L605.99 1063.15 L607.99 1063.51 L609.99 1063.84 L612 1064.16 L614 1064.45 L616 1064.72 L618 1064.96 L620 1065.18 L622 1065.38 L624 1065.55" fill="none" stroke="#4f4f4f" stroke-width="3" stroke-linejoin="round"/>
<path d="M250 1081.65 L252 1080.5 L254 1079.35 L256 1078.21 L258 1077.07 L260 1075.94 L262 1074.82 L264 1073.71 L266 1072.6 L268 1071.49 L270 1070.4 L272 1069.31 L274 1068.23 L276 1067.15 L278 1066.08 L280 1065.02 L282 1063.97 L284 1062.93 L286 1061.89 L288 1060.86 L290 1059.84 L292 1058.83 L294 1057.83 L296 1056.83 L298 1055.85 L300 1054.87 L302 1053.9 L304 1052.94 L306 1051.99 L308 1051.05 L310 1050.12 L312 1049.2 L314 1048.29 L316 1047.38 L318 1046.49 L320 1045.61 L322 1044.74 L324 1043.88 L326 1043.03 L328 1042.19 L330 1041.36 L332 1040.54 L334 1039.74 L336 1038.94 L338 1038.16 L340 1037.38 L342 1036.62 L344 1035.87 L346 1035.14 L348 1034.41 L350 1033.7 L352 1033 L354 1032.31 L356 1031.64 L358 1030.97 L360 1030.32 L362 1029.69 L364 1029.06 L366 1028.45 L368 1027.86 L370 1027.27 L372 1026.7 L374 1026.15 L376 1025.6 L378 1025.08 L380 1024.56 L382 1024.06 L384 1023.58 L386 1023.11 L388 1022.65 L390 1022.21 L392 1021.79 L394 1021.38 L396 1020.99 L398 1020.62 L400 1020.26 L402 1019.92 L404 1019.59 L406 1019.28 L408 1019 L410 1018.72 L412 1018.47 L414 1018.24 L416 1018.02 L418 1017.83 L420 1017.65 L422 1017.49 L424 1017.35 L426 1017.24 L428 1017.14 L430 1017.06 L432 1017.01 L434 1016.97 L436 1016.96 L438 1016.97 L440 1017 L442 1017.05 L444 1017.12 L446 1017.22 L448 1017.34 L450 1017.48 L452 1017.65 L454 1017.84 L456 1018.06 L458 1018.3 L460 1018.56 L462 1018.85 L464 1019.16 L466 1019.49 L468 1019.85 L470 1020.23 L472 1020.63 L474 1021.05 L476 1021.49 L478 1021.95 L480 1022.43 L482 1022.93 L484 1023.44 L486 1023.97 L488 1024.52 L490 1025.08 L492 1025.66 L494 1026.25 L496 1026.86 L498 1027.47 L500 1028.1 L502 1028.75 L504 1029.4 L506 1030.06 L508 1030.74 L510 1031.42 L512 1032.11 L514 1032.81 L516 1033.51 L518 1034.23 L520 1034.94 L522 1035.67 L524 1036.4 L526 1037.13 L528 1037.87 L530 1038.6 L532 1039.34 L534 1040.09 L536 1040.83 L538 1041.57 L540 1042.32 L542 1043.06 L544 1043.8 L546 1044.53 L548 1045.27 L550 1046 L552 1046.73 L554 1047.45 L556 1048.16 L558 1048.87 L560 1049.58 L562 1050.27 L564 1050.96 L566 1051.64 L568 1052.31 L570 1052.97 L572 1053.62 L574 1054.26 L576 1054.88 L578 1055.5 L580 1056.1 L582 1056.68 L584 1057.25 L586 1057.81 L588 1058.35 L590 1058.88 L592 1059.38 L594 1059.87 L596 1060.35 L598 1060.8 L600 1061.23 L602 1061.65 L604 1062.04 L606 1062.41 L608 1062.76 L610 1063.08 L612 1063.39 L614 1063.67 L616 1063.92 L618 1064.15 L620 1064.35 L622 1064.53 L624 1064.68" fill="none" stroke="#4f4f4f" stroke-width="3" stroke-linejoin="round"/>
<path d="M113.8 720.14 L115.8 722.04 L117.8 723.96 L119.8 725.91 L121.8 727.89 L123.8 729.89 L125.8 731.92 L127.81 733.96 L129.81 736.01 L131.81 738.08 L133.81 740.17 L135.81 742.26 L137.81 744.35 L139.81 746.45 L141.81 748.56 L143.81 750.66 L145.81 752.76 L147.81 754.85 L149.81 756.94 L151.81 759.01 L153.82 761.08 L155.82 763.15 L157.82 765.2 L159.82 767.26 L161.82 769.3 L163.82 771.35 L165.82 773.39 L167.82 775.42 L169.82 777.45 L171.82 779.49 L173.82 781.52 L175.82 783.55 L177.83 785.58 L179.83 787.61 L181.83 789.64 L183.83 791.67 L185.83 793.7 L187.83 795.74 L189.83 797.78 L191.83 799.83 L193.83 801.87 L195.83 803.92 L197.83 805.96 L199.83 808.01 L201.83 810.06 L203.84 812.11 L205.84 814.16 L207.84 816.2 L209.84 818.25 L211.84 820.29 L213.84 822.33 L215.84 824.37 L217.84 826.4 L219.84 828.43 L221.84 830.46 L223.84 832.48 L225.84 834.49 L227.84 836.51 L229.85 838.51 L231.85 840.51 L233.85 842.5 L235.85 844.48 L237.85 846.46 L239.85 848.43 L241.85 850.39 L243.85 852.34 L245.85 854.28 L247.85 856.21 L249.85 858.13 L251.85 860.05 L253.85 861.95 L255.86 863.83 L257.86 865.71 L259.86 867.57 L261.86 869.43 L263.86 871.27 L265.86 873.09 L267.86 874.9 L269.86 876.7 L271.86 878.49 L273.86 880.25 L275.86 882.01 L277.86 883.74 L279.87 885.47 L281.87 887.17 L283.87 888.86 L285.87 890.53 L287.87 892.18 L289.87 893.82 L291.87 895.44 L293.87 897.04 L295.87 898.61 L297.87 900.17 L299.87 901.71 L301.87 903.23 L303.87 904.73 L305.88 906.21 L307.88 907.67 L309.88 909.1 L311.88 910.51 L313.88 911.9 L315.88 913.27 L317.88 914.61 L319.88 915.93 L321.88 917.23 L323.88 918.5 L325.88 919.74 L327.88 920.96 L329.88 922.16 L331.89 923.32 L333.89 924.47 L335.89 925.58 L337.89 926.67 L339.89 927.73 L341.89 928.76 L343.89 929.76 L345.89 930.74 L347.89 931.68 L349.89 932.6 L351.89 933.48 L353.89 934.34 L355.89 935.16 L357.9 935.96 L359.9 936.72 L361.9 937.45 L363.9 938.15 L365.9 938.82 L367.9 939.46 L369.9 940.07 L371.9 940.65 L373.9 941.21 L375.9 941.75 L377.9 942.26 L379.9 942.75 L381.91 943.21 L383.91 943.66 L385.91 944.09 L387.91 944.5 L389.91 944.89 L391.91 945.26 L393.91 945.62 L395.91 945.97 L397.91 946.3 L399.91 946.62 L401.91 946.93 L403.91 947.23 L405.91 947.52 L407.92 947.81 L409.92 948.08 L411.92 948.35 L413.92 948.62 L415.92 948.88 L417.92 949.14 L419.92 949.39 L421.92 949.65 L423.92 949.91 L425.92 950.17 L427.92 950.43 L429.92 950.69 L431.92 950.96 L433.93 951.24 L435.93 951.52 L437.93 951.81 L439.93 952.11 L441.93 952.42 L443.93 952.74 L445.93 953.06 L447.93 953.4 L449.93 953.74 L451.93 954.09 L453.93 954.44 L455.93 954.8 L457.93 955.16 L459.94 955.53 L461.94 955.9 L463.94 956.27 L465.94 956.65 L467.94 957.02 L469.94 957.4 L471.94 957.78 L473.94 958.16 L475.94 958.54 L477.94 958.92 L479.94 959.29 L481.94 959.67 L483.95 960.04 L485.95 960.4 L487.95 960.77 L489.95 961.12 L491.95 961.48 L493.95 961.82 L495.95 962.16 L497.95 962.49 L499.95 962.82 L501.95 963.14 L503.95 963.45 L505.95 963.75 L507.95 964.04 L509.96 964.33 L511.96 964.6 L513.96 964.88 L515.96 965.14 L517.96 965.4 L519.96 965.65 L521.96 965.89 L523.96 966.12 L525.96 966.35 L527.96 966.57 L529.96 966.79 L531.96 967 L533.96 967.2 L535.97 967.39 L537.97 967.58 L539.97 967.77 L541.97 967.94 L543.97 968.11 L545.97 968.28 L547.97 968.44 L549.97 968.59 L551.97 968.74 L553.97 968.88 L555.97 969.02 L557.97 969.15 L559.97 969.27 L561.98 969.4 L563.98 969.51 L565.98 969.62 L567.98 969.73 L569.98 969.83 L571.98 969.92 L573.98 970.01 L575.98 970.1 L577.98 970.18 L579.98 970.26 L581.98 970.33 L583.98 970.4 L585.99 970.47 L587.99 970.53 L589.99 970.58 L591.99 970.64 L593.99 970.69 L595.99 970.73 L597.99 970.78 L599.99 970.81 L601.99 970.85 L603.99 970.88 L605.99 970.91 L607.99 970.94 L609.99 970.96 L612 970.98 L614 970.99 L616 971.01 L618 971.02 L620 971.03 L622 971.03 L624 971.04" fill="none" stroke="#ff3838" stroke-width="3.4" stroke-linejoin="round"/>
</g>
<line x1="114.1" y1="1044.82" x2="121.6" y2="1044.82" stroke="#000" stroke-width="2"/>
<line x1="623" y1="1044.82" x2="615.5" y2="1044.82" stroke="#000" stroke-width="2"/>
<line x1="114.1" y1="1010.83" x2="117.9" y2="1010.83" stroke="#000" stroke-width="2"/>
<line x1="623" y1="1010.83" x2="619.2" y2="1010.83" stroke="#000" stroke-width="2"/>
<line x1="114.1" y1="976.85" x2="121.6" y2="976.85" stroke="#000" stroke-width="2"/>
<line x1="623" y1="976.85" x2="615.5" y2="976.85" stroke="#000" stroke-width="2"/>
<line x1="114.1" y1="942.87" x2="117.9" y2="942.87" stroke="#000" stroke-width="2"/>
<line x1="623" y1="942.87" x2="619.2" y2="942.87" stroke="#000" stroke-width="2"/>
<line x1="114.1" y1="908.88" x2="121.6" y2="908.88" stroke="#000" stroke-width="2"/>
<line x1="623" y1="908.88" x2="615.5" y2="908.88" stroke="#000" stroke-width="2"/>
<line x1="114.1" y1="874.9" x2="117.9" y2="874.9" stroke="#000" stroke-width="2"/>
<line x1="623" y1="874.9" x2="619.2" y2="874.9" stroke="#000" stroke-width="2"/>
<line x1="114.1" y1="840.92" x2="121.6" y2="840.92" stroke="#000" stroke-width="2"/>
<line x1="623" y1="840.92" x2="615.5" y2="840.92" stroke="#000" stroke-width="2"/>
<line x1="114.1" y1="806.93" x2="117.9" y2="806.93" stroke="#000" stroke-width="2"/>
<line x1="623" y1="806.93" x2="619.2" y2="806.93" stroke="#000" stroke-width="2"/>
<line x1="114.1" y1="772.95" x2="121.6" y2="772.95" stroke="#000" stroke-width="2"/>
<line x1="623" y1="772.95" x2="615.5" y2="772.95" stroke="#000" stroke-width="2"/>
<line x1="114.1" y1="738.97" x2="117.9" y2="738.97" stroke="#000" stroke-width="2"/>
<line x1="623" y1="738.97" x2="619.2" y2="738.97" stroke="#000" stroke-width="2"/>
<line x1="114.1" y1="704.98" x2="121.6" y2="704.98" stroke="#000" stroke-width="2"/>
<line x1="623" y1="704.98" x2="615.5" y2="704.98" stroke="#000" stroke-width="2"/>
<line x1="114.1" y1="671" x2="117.9" y2="671" stroke="#000" stroke-width="2"/>
<line x1="623" y1="671" x2="619.2" y2="671" stroke="#000" stroke-width="2"/>
<line x1="114.1" y1="1078.8" x2="114.1" y2="1071.3" stroke="#000" stroke-width="2"/>
<line x1="114.1" y1="671" x2="114.1" y2="678.5" stroke="#000" stroke-width="2"/>
<line x1="198.92" y1="1078.8" x2="198.92" y2="1075" stroke="#000" stroke-width="2"/>
<line x1="198.92" y1="671" x2="198.92" y2="674.8" stroke="#000" stroke-width="2"/>
<line x1="283.73" y1="1078.8" x2="283.73" y2="1071.3" stroke="#000" stroke-width="2"/>
<line x1="283.73" y1="671" x2="283.73" y2="678.5" stroke="#000" stroke-width="2"/>
<line x1="368.55" y1="1078.8" x2="368.55" y2="1075" stroke="#000" stroke-width="2"/>
<line x1="368.55" y1="671" x2="368.55" y2="674.8" stroke="#000" stroke-width="2"/>
<line x1="453.37" y1="1078.8" x2="453.37" y2="1071.3" stroke="#000" stroke-width="2"/>
<line x1="453.37" y1="671" x2="453.37" y2="678.5" stroke="#000" stroke-width="2"/>
<line x1="538.18" y1="1078.8" x2="538.18" y2="1075" stroke="#000" stroke-width="2"/>
<line x1="538.18" y1="671" x2="538.18" y2="674.8" stroke="#000" stroke-width="2"/>
<line x1="623" y1="1078.8" x2="623" y2="1071.3" stroke="#000" stroke-width="2"/>
<line x1="623" y1="671" x2="623" y2="678.5" stroke="#000" stroke-width="2"/>
<rect x="114.1" y="671" width="508.9" height="407.8" fill="none" stroke="#000" stroke-width="2.4"/>
<rect x="114.1" y="943" width="512.7" height="23.8" fill="rgb(252,196,28)" fill-opacity="0.45"/>
<g transform="matrix(0.9620 0 0 1.0580 -234.65 735.52)"><text stroke="#000" stroke-width="0.4" x="300" y="300" font-size="28">0.21</text></g>
<g transform="matrix(0.9620 0 0 1.0580 -234.65 667.55)"><text stroke="#000" stroke-width="0.4" x="300" y="300" font-size="28">0.22</text></g>
<g transform="matrix(0.9620 0 0 1.0580 -234.65 599.58)"><text stroke="#000" stroke-width="0.4" x="300" y="300" font-size="28">0.23</text></g>
<g transform="matrix(0.9620 0 0 1.0580 -234.65 531.62)"><text stroke="#000" stroke-width="0.4" x="300" y="300" font-size="28">0.24</text></g>
<g transform="matrix(0.9620 0 0 1.0580 -234.65 463.65)"><text stroke="#000" stroke-width="0.4" x="300" y="300" font-size="28">0.25</text></g>
<g transform="matrix(0.9620 0 0 1.0580 -234.65 395.68)"><text stroke="#000" stroke-width="0.4" x="300" y="300" font-size="28">0.26</text></g>
<g transform="matrix(0.9620 0 0 1.0580 342.18 735.62)"><text stroke="#000" stroke-width="0.4" x="300" y="300" font-size="28">1367</text></g>
<g transform="matrix(0.9620 0 0 1.0580 342.18 667.65)"><text stroke="#000" stroke-width="0.4" x="300" y="300" font-size="28">1305</text></g>
<g transform="matrix(0.9620 0 0 1.0580 342.18 599.68)"><text stroke="#000" stroke-width="0.4" x="300" y="300" font-size="28">1248</text></g>
<g transform="matrix(0.9620 0 0 1.0580 342.18 531.72)"><text stroke="#000" stroke-width="0.4" x="300" y="300" font-size="28">1196</text></g>
<g transform="matrix(0.9620 0 0 1.0580 342.18 463.75)"><text stroke="#000" stroke-width="0.4" x="300" y="300" font-size="28">1148</text></g>
<g transform="matrix(0.9620 0 0 1.0580 342.18 395.78)"><text stroke="#000" stroke-width="0.4" x="300" y="300" font-size="28">1104</text></g>
<g transform="matrix(0.9620 0 0 1.0580 -192.26 791.80)"><text stroke="#000" stroke-width="0.4" x="300" y="300" font-size="28">0.2</text></g>
<g transform="matrix(0.9620 0 0 1.0580 -22.63 791.80)"><text stroke="#000" stroke-width="0.4" x="300" y="300" font-size="28">0.3</text></g>
<g transform="matrix(0.9620 0 0 1.0580 147.01 791.80)"><text stroke="#000" stroke-width="0.4" x="300" y="300" font-size="28">0.4</text></g>
<g transform="matrix(0.9620 0 0 1.0580 316.64 791.80)"><text stroke="#000" stroke-width="0.4" x="300" y="300" font-size="28">0.5</text></g>
<g transform="matrix(0.9615 0 0 1.0394 16.04 827.93)"><text stroke="#000" stroke-width="0.4" x="300" y="300" font-size="34"><tspan font-style="italic">k</tspan><tspan font-size="23" dy="9">x</tspan><tspan dy="-9"> (2π/</tspan><tspan font-style="italic">a</tspan>)</text></g>
<g transform="matrix(0.9593 0 0 0.9067 -245.48 656.39)"><text stroke="#000" stroke-width="0.4" x="300" y="300" font-size="36" transform="rotate(-90 300 300)"><tspan font-style="italic">ωa</tspan>/2π<tspan font-style="italic">c</tspan></text></g>
<rect x="333.2" y="672.1" width="282.3" height="217.5" fill="#fff" stroke="#000" stroke-width="3.4"/>
<clipPath id="pcB"><rect x="343.9" y="681.9" width="61.1" height="201.7"/></clipPath>
<rect x="343.9" y="681.9" width="61.1" height="201.7" fill="#808080"/>
<g clip-path="url(#pcB)">
<circle cx="353.4" cy="692.5" r="6.4" fill="#c8c8c8" stroke="#a02828" stroke-width="1" stroke-dasharray="2 1.6"/>
<circle cx="374.3" cy="692.5" r="6.4" fill="#c8c8c8" stroke="#a02828" stroke-width="1" stroke-dasharray="2 1.6"/>
<circle cx="395.2" cy="692.5" r="6.4" fill="#c8c8c8" stroke="#a02828" stroke-width="1" stroke-dasharray="2 1.6"/>
<circle cx="342.9" cy="710.4" r="6.4" fill="#c8c8c8" stroke="#a02828" stroke-width="1" stroke-dasharray="2 1.6"/>
<circle cx="363.8" cy="710.4" r="6.4" fill="#c8c8c8" stroke="#a02828" stroke-width="1" stroke-dasharray="2 1.6"/>
<circle cx="384.7" cy="710.4" r="6.4" fill="#c8c8c8" stroke="#a02828" stroke-width="1" stroke-dasharray="2 1.6"/>
<circle cx="405.6" cy="710.4" r="6.4" fill="#c8c8c8" stroke="#a02828" stroke-width="1" stroke-dasharray="2 1.6"/>
<circle cx="353.4" cy="728.3" r="8" fill="#8b0000" stroke="#a02828" stroke-width="1" stroke-dasharray="2 1.6"/>
<circle cx="374.3" cy="728.3" r="8" fill="#8b0000" stroke="#a02828" stroke-width="1" stroke-dasharray="2 1.6"/>
<circle cx="395.2" cy="728.3" r="8" fill="#8b0000" stroke="#a02828" stroke-width="1" stroke-dasharray="2 1.6"/>
<circle cx="342.9" cy="746.2" r="7" fill="#0000ff" stroke="#a02828" stroke-width="1" stroke-dasharray="2 1.6"/>
<circle cx="363.8" cy="746.2" r="7" fill="#0000ff" stroke="#a02828" stroke-width="1" stroke-dasharray="2 1.6"/>
<circle cx="384.7" cy="746.2" r="7" fill="#0000ff" stroke="#a02828" stroke-width="1" stroke-dasharray="2 1.6"/>
<circle cx="405.6" cy="746.2" r="7" fill="#0000ff" stroke="#a02828" stroke-width="1" stroke-dasharray="2 1.6"/>
<circle cx="353.4" cy="764.1" r="6.4" fill="#c8c8c8" stroke="#a02828" stroke-width="1" stroke-dasharray="2 1.6"/>
<circle cx="374.3" cy="764.1" r="6.4" fill="#c8c8c8" stroke="#a02828" stroke-width="1" stroke-dasharray="2 1.6"/>
<circle cx="395.2" cy="764.1" r="6.4" fill="#c8c8c8" stroke="#a02828" stroke-width="1" stroke-dasharray="2 1.6"/>
<circle cx="353.4" cy="799.8" r="6.4" fill="#c8c8c8" stroke="#a02828" stroke-width="1" stroke-dasharray="2 1.6"/>
<circle cx="374.3" cy="799.8" r="6.4" fill="#c8c8c8" stroke="#a02828" stroke-width="1" stroke-dasharray="2 1.6"/>
<circle cx="395.2" cy="799.8" r="6.4" fill="#c8c8c8" stroke="#a02828" stroke-width="1" stroke-dasharray="2 1.6"/>
<circle cx="342.9" cy="817.7" r="7" fill="#0000ff" stroke="#a02828" stroke-width="1" stroke-dasharray="2 1.6"/>
<circle cx="363.8" cy="817.7" r="7" fill="#0000ff" stroke="#a02828" stroke-width="1" stroke-dasharray="2 1.6"/>
<circle cx="384.7" cy="817.7" r="7" fill="#0000ff" stroke="#a02828" stroke-width="1" stroke-dasharray="2 1.6"/>
<circle cx="405.6" cy="817.7" r="7" fill="#0000ff" stroke="#a02828" stroke-width="1" stroke-dasharray="2 1.6"/>
<circle cx="353.4" cy="835.6" r="8" fill="#8b0000" stroke="#a02828" stroke-width="1" stroke-dasharray="2 1.6"/>
<circle cx="374.3" cy="835.6" r="8" fill="#8b0000" stroke="#a02828" stroke-width="1" stroke-dasharray="2 1.6"/>
<circle cx="395.2" cy="835.6" r="8" fill="#8b0000" stroke="#a02828" stroke-width="1" stroke-dasharray="2 1.6"/>
<circle cx="342.9" cy="853.5" r="6.4" fill="#c8c8c8" stroke="#a02828" stroke-width="1" stroke-dasharray="2 1.6"/>
<circle cx="363.8" cy="853.5" r="6.4" fill="#c8c8c8" stroke="#a02828" stroke-width="1" stroke-dasharray="2 1.6"/>
<circle cx="384.7" cy="853.5" r="6.4" fill="#c8c8c8" stroke="#a02828" stroke-width="1" stroke-dasharray="2 1.6"/>
<circle cx="405.6" cy="853.5" r="6.4" fill="#c8c8c8" stroke="#a02828" stroke-width="1" stroke-dasharray="2 1.6"/>
<circle cx="353.4" cy="871.4" r="6.4" fill="#c8c8c8" stroke="#a02828" stroke-width="1" stroke-dasharray="2 1.6"/>
<circle cx="374.3" cy="871.4" r="6.4" fill="#c8c8c8" stroke="#a02828" stroke-width="1" stroke-dasharray="2 1.6"/>
<circle cx="395.2" cy="871.4" r="6.4" fill="#c8c8c8" stroke="#a02828" stroke-width="1" stroke-dasharray="2 1.6"/>
</g>
<g transform="matrix(0.9920 0 0 1.0577 165.43 390.79)"><text stroke="#3c3c3c" stroke-width="0.4" x="300" y="300" font-size="37" font-weight="bold" fill="#3c3c3c">LVLD1</text></g>
<line x1="462.7" y1="712.5" x2="581.8" y2="712.5" stroke="#3c3c3c" stroke-width="2.6"/>
<g transform="matrix(1.0040 0 0 1.0200 138.80 433.24)"><text stroke="#c00000" stroke-width="0.4" x="300" y="300" font-size="32" fill="#c00000"><tspan font-style="italic">r</tspan><tspan font-style="italic" font-size="22" dy="8">3</tspan><tspan dy="-8"> =1.25</tspan><tspan font-style="italic">r</tspan></text></g>
<g transform="matrix(1.0037 0 0 1.0000 140.78 471.30)"><text stroke="#0070c0" stroke-width="0.4" x="300" y="300" font-size="32" fill="#0070c0"><tspan font-style="italic">r</tspan><tspan font-style="italic" font-size="22" dy="8">2</tspan><tspan dy="-8"> =1.1</tspan><tspan font-style="italic">r</tspan></text></g>
<g transform="matrix(1.0085 0 0 1.0636 148.94 541.91)"><text stroke="#808080" stroke-width="0.4" x="300" y="300" font-size="32" fill="#808080"><tspan font-style="italic">r</tspan> =0.31<tspan font-style="italic">a</tspan></text></g>
<line x1="393.9" y1="719.1" x2="424.8" y2="719.1" stroke="#c00000" stroke-width="2.2"/>
<line x1="393.9" y1="726" x2="424.8" y2="726" stroke="#c00000" stroke-width="2.2"/>
<line x1="412" y1="704.2" x2="412" y2="710.1" stroke="#c00000" stroke-width="1.8"/>
<line x1="412" y1="735" x2="412" y2="742.6" stroke="#c00000" stroke-width="1.8"/>
<path d="M412 718.6 L407 709.6 L417 709.6Z" fill="#c00000"/>
<path d="M412 726.5 L407 735.5 L417 735.5Z" fill="#c00000"/>
<line x1="403.5" y1="744.1" x2="434.4" y2="744.1" stroke="#0070c0" stroke-width="2.2"/>
<line x1="403.5" y1="751.1" x2="434.4" y2="751.1" stroke="#0070c0" stroke-width="2.2"/>
<line x1="427.6" y1="730" x2="427.6" y2="735.1" stroke="#0070c0" stroke-width="1.8"/>
<line x1="427.6" y1="760.1" x2="427.6" y2="767" stroke="#0070c0" stroke-width="1.8"/>
<path d="M427.6 743.6 L422.6 734.6 L432.6 734.6Z" fill="#0070c0"/>
<path d="M427.6 751.6 L422.6 760.6 L432.6 760.6Z" fill="#0070c0"/>
<line x1="404.8" y1="848.4" x2="435.5" y2="848.4" stroke="#808080" stroke-width="2.2"/>
<line x1="404.8" y1="854.8" x2="435.5" y2="854.8" stroke="#808080" stroke-width="2.2"/>
<line x1="427.4" y1="832" x2="427.4" y2="839.4" stroke="#808080" stroke-width="1.8"/>
<line x1="427.4" y1="863.8" x2="427.4" y2="871.8" stroke="#808080" stroke-width="1.8"/>
<path d="M427.4 847.9 L422.4 838.9 L432.4 838.9Z" fill="#808080"/>
<path d="M427.4 855.3 L422.4 864.3 L432.4 864.3Z" fill="#808080"/>
<clipPath id="rb"><rect x="821.1" y="734.1" width="538.9" height="241.3"/></clipPath>
<g clip-path="url(#rb)">
<path d="M820.6 948.3 L842.9 944.9 L873.6 937.9 L898.8 929.6 L929.5 915.6 L954.6 904.4 L974.1 898 L996.5 896.9 L1024.4 898.9 L1052.3 900.3 L1080.2 898 L1108.1 891.3 L1123.1 884.7 L1138 875.3 L1149.2 863.2 L1159.5 846.4 L1167 825.8 L1171.6 804.4 L1175.4 781 L1178.2 755.8 L1181 728" fill="none" stroke="#ff3838" stroke-width="3.2" stroke-linejoin="round"/>
</g>
<line x1="821.1" y1="975.4" x2="828.1" y2="975.4" stroke="#000" stroke-width="1.9"/>
<line x1="821.1" y1="945.24" x2="824.6" y2="945.24" stroke="#000" stroke-width="1.9"/>
<line x1="821.1" y1="915.08" x2="828.1" y2="915.08" stroke="#000" stroke-width="1.9"/>
<line x1="821.1" y1="884.91" x2="824.6" y2="884.91" stroke="#000" stroke-width="1.9"/>
<line x1="821.1" y1="854.75" x2="828.1" y2="854.75" stroke="#000" stroke-width="1.9"/>
<line x1="821.1" y1="824.59" x2="824.6" y2="824.59" stroke="#000" stroke-width="1.9"/>
<line x1="821.1" y1="794.42" x2="828.1" y2="794.42" stroke="#000" stroke-width="1.9"/>
<line x1="821.1" y1="764.26" x2="824.6" y2="764.26" stroke="#000" stroke-width="1.9"/>
<line x1="821.1" y1="734.1" x2="828.1" y2="734.1" stroke="#000" stroke-width="1.9"/>
<line x1="874.99" y1="975.4" x2="874.99" y2="968.4" stroke="#000" stroke-width="1.9"/>
<line x1="928.88" y1="975.4" x2="928.88" y2="971.9" stroke="#000" stroke-width="1.9"/>
<line x1="982.77" y1="975.4" x2="982.77" y2="968.4" stroke="#000" stroke-width="1.9"/>
<line x1="1036.66" y1="975.4" x2="1036.66" y2="971.9" stroke="#000" stroke-width="1.9"/>
<line x1="1090.55" y1="975.4" x2="1090.55" y2="968.4" stroke="#000" stroke-width="1.9"/>
<line x1="1144.44" y1="975.4" x2="1144.44" y2="971.9" stroke="#000" stroke-width="1.9"/>
<line x1="1198.33" y1="975.4" x2="1198.33" y2="968.4" stroke="#000" stroke-width="1.9"/>
<line x1="1252.22" y1="975.4" x2="1252.22" y2="971.9" stroke="#000" stroke-width="1.9"/>
<line x1="1306.11" y1="975.4" x2="1306.11" y2="968.4" stroke="#000" stroke-width="1.9"/>
<rect x="821.1" y="734.1" width="538.9" height="241.3" fill="none" stroke="#000" stroke-width="2"/>
<rect x="929.8" y="733.1" width="192.8" height="243.3" fill="rgb(252,196,28)" fill-opacity="0.45"/>
<g transform="matrix(0.9620 0 0 1.0580 507.97 666.65)"><text stroke="#000" stroke-width="0.4" x="300" y="300" font-size="28">0</text></g>
<g transform="matrix(0.9620 0 0 1.0580 493.54 606.33)"><text stroke="#000" stroke-width="0.4" x="300" y="300" font-size="28">20</text></g>
<g transform="matrix(0.9620 0 0 1.0580 493.54 546.00)"><text stroke="#000" stroke-width="0.4" x="300" y="300" font-size="28">40</text></g>
<g transform="matrix(0.9620 0 0 1.0580 493.54 485.68)"><text stroke="#000" stroke-width="0.4" x="300" y="300" font-size="28">60</text></g>
<g transform="matrix(0.9620 0 0 1.0580 493.54 425.35)"><text stroke="#000" stroke-width="0.4" x="300" y="300" font-size="28">80</text></g>
<g transform="matrix(0.9620 0 0 1.0580 556.11 688.30)"><text stroke="#000" stroke-width="0.4" x="300" y="300" font-size="28">1270</text></g>
<g transform="matrix(0.9620 0 0 1.0580 663.89 688.30)"><text stroke="#000" stroke-width="0.4" x="300" y="300" font-size="28">1280</text></g>
<g transform="matrix(0.9620 0 0 1.0580 771.67 688.30)"><text stroke="#000" stroke-width="0.4" x="300" y="300" font-size="28">1290</text></g>
<g transform="matrix(0.9620 0 0 1.0580 879.45 688.30)"><text stroke="#000" stroke-width="0.4" x="300" y="300" font-size="28">1300</text></g>
<g transform="matrix(0.9620 0 0 1.0580 987.23 688.30)"><text stroke="#000" stroke-width="0.4" x="300" y="300" font-size="28">1310</text></g>
<g transform="matrix(1.0203 0 0 1.0419 654.81 728.43)"><text stroke="#000" stroke-width="0.4" x="300" y="300" font-size="34">Wavelength (nm)</text></g>
<g transform="matrix(1.0645 0 0 0.9922 407.99 402.21)"><text stroke="#000" stroke-width="0.4" x="300" y="600" font-size="34" transform="rotate(-90 300 600)">Wavelength (nm)</text></g>
<g transform="matrix(1.0355 0 0 1.0169 459.21 338.57)"><text stroke="#000" stroke-width="0.4" x="300" y="600" font-size="34" transform="rotate(-90 300 600)">Group index</text></g>
<g transform="matrix(1.0846 0 0 0.9700 633.15 504.62)"><text stroke="#ff0000" stroke-width="0.4" x="300" y="300" font-size="37" fill="#ff0000"><tspan font-family="Liberation Serif" font-style="italic">n</tspan><tspan font-family="Liberation Serif" font-style="italic" font-size="27" dy="8">g</tspan><tspan dy="-8">=25.8</tspan></text></g>
<g transform="matrix(0.9960 0 0 1.0231 677.42 539.38)"><text stroke="#ff0000" stroke-width="0.4" x="300" y="300" font-size="37" fill="#ff0000">18 nm</text></g>
<line x1="944" y1="857.5" x2="1108" y2="857.5" stroke="#ff0000" stroke-width="3.6"/>
<path d="M930 857.5 L946 849.5 L946 865.5Z" fill="#ff0000"/>
<path d="M1122.8 857.5 L1106.8 849.5 L1106.8 865.5Z" fill="#ff0000"/>
<g transform="matrix(0.9361 0 0 1.0290 -250.61 894.99)"><text stroke="#000" stroke-width="0.4" x="300" y="300" font-size="34">(c)</text></g>
<clipPath id="cc"><rect x="97.5" y="1235" width="508" height="408"/></clipPath>
<g clip-path="url(#cc)">
<path d="M106.2 1643 L208.2 1235" fill="none" stroke="#bababa" stroke-width="1.7" stroke-linejoin="round"/>
<path d="M97 1352.6 L110 1349.6 L124.4 1346.8 L138.5 1347.6 L147.9 1342.9 L160 1340.5 L175 1338.5 L175 1339.09 L177 1338.69 L179.01 1338.3 L181.01 1337.93 L183.02 1337.57 L185.02 1337.24 L187.03 1336.92 L189.03 1336.61 L191.04 1336.32 L193.04 1336.05 L195.05 1335.79 L197.05 1335.56 L199.06 1335.33 L201.06 1335.13 L203.07 1334.94 L205.07 1334.76 L207.07 1334.61 L209.08 1334.47 L211.08 1334.34 L213.09 1334.24 L215.09 1334.15 L217.1 1334.07 L219.1 1334.01 L221.11 1333.97 L223.11 1333.95 L225.12 1333.94 L227.12 1333.94 L229.13 1333.97 L231.13 1334.01 L233.13 1334.06 L235.14 1334.14 L237.14 1334.22 L239.15 1334.33 L241.15 1334.45 L243.16 1334.59 L245.16 1334.74 L247.17 1334.91 L249.17 1335.1 L251.18 1335.3 L253.18 1335.52 L255.19 1335.75 L257.19 1336 L259.2 1336.27 L261.2 1336.55 L263.2 1336.85 L265.21 1337.16 L267.21 1337.5 L269.22 1337.84 L271.22 1338.21 L273.23 1338.58 L275.23 1338.98 L277.24 1339.39 L279.24 1339.82 L281.25 1340.26 L283.25 1340.72 L285.26 1341.19 L287.26 1341.69 L289.27 1342.19 L291.27 1342.71 L293.27 1343.25 L295.28 1343.81 L297.28 1344.38 L299.29 1344.97 L301.29 1345.57 L303.3 1346.19 L305.3 1346.82 L307.31 1347.47 L309.31 1348.13 L311.32 1348.82 L313.32 1349.51 L315.33 1350.23 L317.33 1350.95 L319.33 1351.7 L321.34 1352.46 L323.34 1353.23 L325.35 1354.02 L327.35 1354.82 L329.36 1355.64 L331.36 1356.47 L333.37 1357.31 L335.37 1358.17 L337.38 1359.04 L339.38 1359.92 L341.39 1360.81 L343.39 1361.72 L345.4 1362.63 L347.4 1363.56 L349.4 1364.5 L351.41 1365.45 L353.41 1366.41 L355.42 1367.38 L357.42 1368.35 L359.43 1369.34 L361.43 1370.34 L363.44 1371.34 L365.44 1372.35 L367.45 1373.37 L369.45 1374.4 L371.46 1375.44 L373.46 1376.48 L375.47 1377.53 L377.47 1378.58 L379.47 1379.64 L381.48 1380.71 L383.48 1381.78 L385.49 1382.86 L387.49 1383.94 L389.5 1385.03 L391.5 1386.12 L393.51 1387.21 L395.51 1388.31 L397.52 1389.41 L399.52 1390.52 L401.53 1391.62 L403.53 1392.73 L405.53 1393.84 L407.54 1394.95 L409.54 1396.07 L411.55 1397.18 L413.55 1398.3 L415.56 1399.41 L417.56 1400.53 L419.57 1401.64 L421.57 1402.76 L423.58 1403.87 L425.58 1404.98 L427.59 1406.09 L429.59 1407.2 L431.6 1408.31 L433.6 1409.41 L435.6 1410.51 L437.61 1411.61 L439.61 1412.7 L441.62 1413.79 L443.62 1414.88 L445.63 1415.96 L447.63 1417.04 L449.64 1418.11 L451.64 1419.18 L453.65 1420.24 L455.65 1421.3 L457.66 1422.35 L459.66 1423.39 L461.67 1424.42 L463.67 1425.45 L465.67 1426.47 L467.68 1427.49 L469.68 1428.49 L471.69 1429.49 L473.69 1430.47 L475.7 1431.45 L477.7 1432.42 L479.71 1433.38 L481.71 1434.33 L483.72 1435.27 L485.72 1436.19 L487.73 1437.11 L489.73 1438.02 L491.73 1438.91 L493.74 1439.79 L495.74 1440.66 L497.75 1441.52 L499.75 1442.36 L501.76 1443.19 L503.76 1444.01 L505.77 1444.81 L507.77 1445.6 L509.78 1446.38 L511.78 1447.14 L513.79 1447.88 L515.79 1448.61 L517.8 1449.32 L519.8 1450.02 L521.8 1450.7 L523.81 1451.37 L525.81 1452.01 L527.82 1452.64 L529.82 1453.26 L531.83 1453.85 L533.83 1454.43 L535.84 1454.98 L537.84 1455.52 L539.85 1456.04 L541.85 1456.54 L543.86 1457.02 L545.86 1457.48 L547.87 1457.92 L549.87 1458.34 L551.87 1458.74 L553.88 1459.12 L555.88 1459.47 L557.89 1459.81 L559.89 1460.12 L561.9 1460.42 L563.9 1460.69 L565.91 1460.94 L567.91 1461.17 L569.92 1461.37 L571.92 1461.56 L573.93 1461.72 L575.93 1461.86 L577.93 1461.98 L579.94 1462.07 L581.94 1462.14 L583.95 1462.19 L585.95 1462.22 L587.96 1462.22 L589.96 1462.2 L591.97 1462.15 L593.97 1462.08 L595.98 1461.99 L597.98 1461.87 L599.99 1461.73 L601.99 1461.56 L604 1461.37 L606 1461.15" fill="none" stroke="#4f4f4f" stroke-width="3" stroke-linejoin="round"/>
<path d="M97.6 1623.94 L99.6 1623.33 L101.6 1622.68 L103.6 1622.01 L105.61 1621.32 L107.61 1620.6 L109.61 1619.86 L111.61 1619.1 L113.61 1618.31 L115.61 1617.5 L117.62 1616.67 L119.62 1615.83 L121.62 1614.96 L123.62 1614.07 L125.62 1613.17 L127.62 1612.25 L129.63 1611.31 L131.63 1610.36 L133.63 1609.39 L135.63 1608.41 L137.63 1607.42 L139.63 1606.41 L141.63 1605.39 L143.64 1604.36 L145.64 1603.32 L147.64 1602.27 L149.64 1601.21 L151.64 1600.15 L153.64 1599.07 L155.65 1597.99 L157.65 1596.9 L159.65 1595.81 L161.65 1594.71 L163.65 1593.61 L165.65 1592.5 L167.66 1591.39 L169.66 1590.28 L171.66 1589.17 L173.66 1588.06 L175.66 1586.95 L177.66 1585.84 L179.66 1584.73 L181.67 1583.63 L183.67 1582.53 L185.67 1581.43 L187.67 1580.33 L189.67 1579.25 L191.67 1578.16 L193.68 1577.09 L195.68 1576.02 L197.68 1574.96 L199.68 1573.91 L201.68 1572.87 L203.68 1571.84 L205.69 1570.82 L207.69 1569.81 L209.69 1568.82 L211.69 1567.84 L213.69 1566.87 L215.69 1565.92 L217.69 1564.98 L219.7 1564.06 L221.7 1563.16 L223.7 1562.27 L225.7 1561.41 L227.7 1560.56 L229.7 1559.73 L231.71 1558.92 L233.71 1558.13 L235.71 1557.37 L237.71 1556.63 L239.71 1555.91 L241.71 1555.21 L243.71 1554.54 L245.72 1553.9 L247.72 1553.28 L249.72 1552.69 L251.72 1552.12 L253.72 1551.58 L255.72 1551.07 L257.73 1550.58 L259.73 1550.12 L261.73 1549.69 L263.73 1549.28 L265.73 1548.91 L267.73 1548.56 L269.74 1548.23 L271.74 1547.94 L273.74 1547.68 L275.74 1547.44 L277.74 1547.23 L279.74 1547.06 L281.74 1546.91 L283.75 1546.79 L285.75 1546.7 L287.75 1546.65 L289.75 1546.62 L291.75 1546.62 L293.75 1546.66 L295.76 1546.72 L297.76 1546.82 L299.76 1546.95 L301.76 1547.11 L303.76 1547.3 L305.76 1547.53 L307.77 1547.79 L309.77 1548.08 L311.77 1548.4 L313.77 1548.76 L315.77 1549.15 L317.77 1549.57 L319.77 1550.03 L321.78 1550.52 L323.78 1551.05 L325.78 1551.61 L327.78 1552.2 L329.78 1552.84 L331.78 1553.5 L333.79 1554.2 L335.79 1554.94 L337.79 1555.72 L339.79 1556.53 L341.79 1557.37 L343.79 1558.25 L345.8 1559.16 L347.8 1560.09 L349.8 1561.03 L351.8 1562 L353.8 1562.96 L355.8 1563.94 L357.8 1564.91 L359.81 1565.88 L361.81 1566.84 L363.81 1567.78 L365.81 1568.7 L367.81 1569.6 L369.81 1570.47 L371.82 1571.3 L373.82 1572.1 L375.82 1572.86 L377.82 1573.59 L379.82 1574.28 L381.82 1574.94 L383.83 1575.57 L385.83 1576.16 L387.83 1576.73 L389.83 1577.27 L391.83 1577.78 L393.83 1578.27 L395.83 1578.74 L397.84 1579.18 L399.84 1579.6 L401.84 1580 L403.84 1580.38 L405.84 1580.73 L407.84 1581.07 L409.85 1581.4 L411.85 1581.7 L413.85 1581.98 L415.85 1582.25 L417.85 1582.49 L419.85 1582.72 L421.86 1582.93 L423.86 1583.13 L425.86 1583.31 L427.86 1583.47 L429.86 1583.61 L431.86 1583.74 L433.86 1583.85 L435.87 1583.95 L437.87 1584.03 L439.87 1584.1 L441.87 1584.15 L443.87 1584.18 L445.87 1584.21 L447.88 1584.22 L449.88 1584.21 L451.88 1584.19 L453.88 1584.16 L455.88 1584.12 L457.88 1584.06 L459.89 1583.99 L461.89 1583.91 L463.89 1583.82 L465.89 1583.71 L467.89 1583.6 L469.89 1583.47 L471.89 1583.33 L473.9 1583.19 L475.9 1583.03 L477.9 1582.86 L479.9 1582.69 L481.9 1582.5 L483.9 1582.31 L485.91 1582.1 L487.91 1581.89 L489.91 1581.67 L491.91 1581.44 L493.91 1581.2 L495.91 1580.96 L497.91 1580.71 L499.92 1580.45 L501.92 1580.18 L503.92 1579.91 L505.92 1579.63 L507.92 1579.35 L509.92 1579.06 L511.93 1578.76 L513.93 1578.46 L515.93 1578.15 L517.93 1577.84 L519.93 1577.52 L521.93 1577.2 L523.94 1576.87 L525.94 1576.54 L527.94 1576.21 L529.94 1575.87 L531.94 1575.53 L533.94 1575.19 L535.94 1574.84 L537.95 1574.49 L539.95 1574.14 L541.95 1573.78 L543.95 1573.43 L545.95 1573.07 L547.95 1572.71 L549.96 1572.35 L551.96 1571.99 L553.96 1571.63 L555.96 1571.27 L557.96 1570.9 L559.96 1570.54 L561.97 1570.18 L563.97 1569.82 L565.97 1569.45 L567.97 1569.09 L569.97 1568.73 L571.97 1568.38 L573.97 1568.02 L575.98 1567.66 L577.98 1567.31 L579.98 1566.96 L581.98 1566.61 L583.98 1566.27 L585.98 1565.93 L587.99 1565.59 L589.99 1565.25 L591.99 1564.92 L593.99 1564.6 L595.99 1564.27 L597.99 1563.95 L600 1563.64 L602 1563.33 L604 1563.03 L606 1562.73" fill="none" stroke="#4f4f4f" stroke-width="3.6" stroke-linejoin="round"/>
<path d="M240 1645.48 L242 1644.32 L244 1643.15 L246 1641.98 L248 1640.8 L250 1639.63 L252 1638.45 L254 1637.26 L256 1636.08 L258 1634.9 L260 1633.71 L262 1632.52 L264 1631.33 L266 1630.14 L268 1628.96 L270 1627.77 L272 1626.58 L274 1625.39 L276 1624.2 L278 1623.02 L280 1621.83 L282 1620.65 L284 1619.47 L286 1618.29 L288 1617.12 L290 1615.95 L292 1614.78 L294 1613.61 L296 1612.45 L298 1611.29 L300 1610.14 L302 1608.99 L304 1607.85 L306 1606.71 L308 1605.57 L310 1604.44 L312 1603.32 L314 1602.21 L316 1601.1 L318 1600 L320 1598.9 L322 1597.81 L324 1596.73 L326 1595.66 L328 1594.6 L330 1593.54 L332 1592.49 L334 1591.46 L336 1590.43 L338 1589.41 L340 1588.4 L342 1587.4 L344 1586.41 L346 1585.44 L348 1584.47 L350 1583.51 L352 1582.57 L354 1581.64 L356 1580.72 L358 1579.81 L360 1578.92 L362 1578.04 L364 1577.17 L366 1576.31 L368 1575.47 L370 1574.65 L372 1573.83 L374 1573.04 L376 1572.25 L378 1571.49 L380 1570.73 L382 1570 L384 1569.28 L386 1568.57 L388 1567.89 L390 1567.22 L392 1566.56 L394 1565.93 L396 1565.31 L398 1564.71 L400 1564.13 L402 1563.56 L404 1563.02 L406 1562.49 L408 1561.98 L410 1561.49 L412 1561.02 L414 1560.56 L416 1560.12 L418 1559.69 L420 1559.29 L422 1558.9 L424 1558.52 L426 1558.17 L428 1557.82 L430 1557.5 L432 1557.18 L434 1556.89 L436 1556.61 L438 1556.34 L440 1556.09 L442 1555.85 L444 1555.62 L446 1555.41 L448 1555.22 L450 1555.03 L452 1554.86 L454 1554.71 L456 1554.56 L458 1554.43 L460 1554.31 L462 1554.21 L464 1554.11 L466 1554.03 L468 1553.96 L470 1553.9 L472 1553.85 L474 1553.81 L476 1553.78 L478 1553.77 L480 1553.76 L482 1553.76 L484 1553.78 L486 1553.8 L488 1553.83 L490 1553.87 L492 1553.93 L494 1553.99 L496 1554.05 L498 1554.13 L500 1554.22 L502 1554.31 L504 1554.41 L506 1554.52 L508 1554.64 L510 1554.76 L512 1554.89 L514 1555.03 L516 1555.17 L518 1555.32 L520 1555.48 L522 1555.64 L524 1555.81 L526 1555.98 L528 1556.16 L530 1556.34 L532 1556.53 L534 1556.72 L536 1556.92 L538 1557.12 L540 1557.33 L542 1557.54 L544 1557.75 L546 1557.97 L548 1558.19 L550 1558.41 L552 1558.64 L554 1558.87 L556 1559.1 L558 1559.33 L560 1559.57 L562 1559.8 L564 1560.04 L566 1560.28 L568 1560.52 L570 1560.77 L572 1561.01 L574 1561.25 L576 1561.5 L578 1561.74 L580 1561.98 L582 1562.23 L584 1562.47 L586 1562.71 L588 1562.95 L590 1563.19 L592 1563.43 L594 1563.67 L596 1563.9 L598 1564.13 L600 1564.37 L602 1564.59 L604 1564.82 L606 1565.04" fill="none" stroke="#4f4f4f" stroke-width="3.2" stroke-linejoin="round"/>
<path d="M97.6 1303.96 L99.6 1305.78 L101.6 1307.63 L103.6 1309.51 L105.61 1311.41 L107.61 1313.34 L109.61 1315.29 L111.61 1317.26 L113.61 1319.25 L115.61 1321.26 L117.62 1323.29 L119.62 1325.34 L121.62 1327.4 L123.62 1329.48 L125.62 1331.56 L127.62 1333.66 L129.63 1335.77 L131.63 1337.88 L133.63 1340.01 L135.63 1342.14 L137.63 1344.28 L139.63 1346.42 L141.63 1348.56 L143.64 1350.71 L145.64 1352.86 L147.64 1355.02 L149.64 1357.17 L151.64 1359.33 L153.64 1361.48 L155.65 1363.63 L157.65 1365.78 L159.65 1367.92 L161.65 1370.06 L163.65 1372.2 L165.65 1374.32 L167.66 1376.45 L169.66 1378.56 L171.66 1380.67 L173.66 1382.77 L175.66 1384.87 L177.66 1386.96 L179.66 1389.04 L181.67 1391.13 L183.67 1393.21 L185.67 1395.29 L187.67 1397.36 L189.67 1399.44 L191.67 1401.51 L193.68 1403.59 L195.68 1405.66 L197.68 1407.73 L199.68 1409.81 L201.68 1411.89 L203.68 1413.97 L205.69 1416.06 L207.69 1418.14 L209.69 1420.23 L211.69 1422.33 L213.69 1424.42 L215.69 1426.52 L217.69 1428.61 L219.7 1430.71 L221.7 1432.81 L223.7 1434.9 L225.7 1437 L227.7 1439.09 L229.7 1441.17 L231.71 1443.25 L233.71 1445.32 L235.71 1447.38 L237.71 1449.43 L239.71 1451.46 L241.71 1453.48 L243.71 1455.48 L245.72 1457.47 L247.72 1459.43 L249.72 1461.37 L251.72 1463.28 L253.72 1465.17 L255.72 1467.04 L257.73 1468.87 L259.73 1470.67 L261.73 1472.44 L263.73 1474.17 L265.73 1475.87 L267.73 1477.53 L269.74 1479.14 L271.74 1480.72 L273.74 1482.25 L275.74 1483.74 L277.74 1485.18 L279.74 1486.57 L281.74 1487.91 L283.75 1489.2 L285.75 1490.44 L287.75 1491.63 L289.75 1492.77 L291.75 1493.87 L293.75 1494.91 L295.76 1495.91 L297.76 1496.87 L299.76 1497.78 L301.76 1498.65 L303.76 1499.47 L305.76 1500.25 L307.77 1500.99 L309.77 1501.69 L311.77 1502.36 L313.77 1502.98 L315.77 1503.56 L317.77 1504.11 L319.77 1504.63 L321.78 1505.1 L323.78 1505.55 L325.78 1505.96 L327.78 1506.34 L329.78 1506.68 L331.78 1507 L333.79 1507.29 L335.79 1507.54 L337.79 1507.77 L339.79 1507.98 L341.79 1508.15 L343.79 1508.3 L345.8 1508.43 L347.8 1508.53 L349.8 1508.62 L351.8 1508.68 L353.8 1508.73 L355.8 1508.75 L357.8 1508.76 L359.81 1508.76 L361.81 1508.74 L363.81 1508.7 L365.81 1508.66 L367.81 1508.6 L369.81 1508.54 L371.82 1508.46 L373.82 1508.38 L375.82 1508.3 L377.82 1508.2 L379.82 1508.11 L381.82 1508.01 L383.83 1507.91 L385.83 1507.81 L387.83 1507.72 L389.83 1507.62 L391.83 1507.53 L393.83 1507.44 L395.83 1507.36 L397.84 1507.29 L399.84 1507.22 L401.84 1507.16 L403.84 1507.12 L405.84 1507.08 L407.84 1507.06 L409.85 1507.06 L411.85 1507.07 L413.85 1507.09 L415.85 1507.13 L417.85 1507.19 L419.85 1507.28 L421.86 1507.38 L423.86 1507.5 L425.86 1507.64 L427.86 1507.81 L429.86 1507.99 L431.86 1508.19 L433.86 1508.4 L435.87 1508.64 L437.87 1508.89 L439.87 1509.16 L441.87 1509.45 L443.87 1509.75 L445.87 1510.06 L447.88 1510.39 L449.88 1510.74 L451.88 1511.1 L453.88 1511.47 L455.88 1511.86 L457.88 1512.25 L459.89 1512.66 L461.89 1513.09 L463.89 1513.52 L465.89 1513.96 L467.89 1514.42 L469.89 1514.88 L471.89 1515.35 L473.9 1515.83 L475.9 1516.32 L477.9 1516.82 L479.9 1517.33 L481.9 1517.84 L483.9 1518.36 L485.91 1518.88 L487.91 1519.41 L489.91 1519.95 L491.91 1520.49 L493.91 1521.04 L495.91 1521.59 L497.91 1522.15 L499.92 1522.7 L501.92 1523.27 L503.92 1523.83 L505.92 1524.4 L507.92 1524.98 L509.92 1525.55 L511.93 1526.13 L513.93 1526.71 L515.93 1527.28 L517.93 1527.86 L519.93 1528.44 L521.93 1529.03 L523.94 1529.61 L525.94 1530.19 L527.94 1530.77 L529.94 1531.34 L531.94 1531.92 L533.94 1532.5 L535.94 1533.07 L537.95 1533.64 L539.95 1534.21 L541.95 1534.77 L543.95 1535.33 L545.95 1535.89 L547.95 1536.44 L549.96 1536.99 L551.96 1537.53 L553.96 1538.07 L555.96 1538.6 L557.96 1539.13 L559.96 1539.65 L561.97 1540.17 L563.97 1540.67 L565.97 1541.17 L567.97 1541.67 L569.97 1542.15 L571.97 1542.63 L573.97 1543.09 L575.98 1543.55 L577.98 1544 L579.98 1544.44 L581.98 1544.87 L583.98 1545.29 L585.98 1545.7 L587.99 1546.1 L589.99 1546.48 L591.99 1546.86 L593.99 1547.22 L595.99 1547.57 L597.99 1547.91 L600 1548.23 L602 1548.55 L604 1548.84 L606 1549.13" fill="none" stroke="#ff3838" stroke-width="4.1" stroke-linejoin="round"/>
</g>
<line x1="97.5" y1="1609" x2="105" y2="1609" stroke="#000" stroke-width="2"/>
<line x1="605.5" y1="1609" x2="598" y2="1609" stroke="#000" stroke-width="2"/>
<line x1="97.5" y1="1575" x2="101.3" y2="1575" stroke="#000" stroke-width="2"/>
<line x1="605.5" y1="1575" x2="601.7" y2="1575" stroke="#000" stroke-width="2"/>
<line x1="97.5" y1="1541" x2="105" y2="1541" stroke="#000" stroke-width="2"/>
<line x1="605.5" y1="1541" x2="598" y2="1541" stroke="#000" stroke-width="2"/>
<line x1="97.5" y1="1507" x2="101.3" y2="1507" stroke="#000" stroke-width="2"/>
<line x1="605.5" y1="1507" x2="601.7" y2="1507" stroke="#000" stroke-width="2"/>
<line x1="97.5" y1="1473" x2="105" y2="1473" stroke="#000" stroke-width="2"/>
<line x1="605.5" y1="1473" x2="598" y2="1473" stroke="#000" stroke-width="2"/>
<line x1="97.5" y1="1439" x2="101.3" y2="1439" stroke="#000" stroke-width="2"/>
<line x1="605.5" y1="1439" x2="601.7" y2="1439" stroke="#000" stroke-width="2"/>
<line x1="97.5" y1="1405" x2="105" y2="1405" stroke="#000" stroke-width="2"/>
<line x1="605.5" y1="1405" x2="598" y2="1405" stroke="#000" stroke-width="2"/>
<line x1="97.5" y1="1371" x2="101.3" y2="1371" stroke="#000" stroke-width="2"/>
<line x1="605.5" y1="1371" x2="601.7" y2="1371" stroke="#000" stroke-width="2"/>
<line x1="97.5" y1="1337" x2="105" y2="1337" stroke="#000" stroke-width="2"/>
<line x1="605.5" y1="1337" x2="598" y2="1337" stroke="#000" stroke-width="2"/>
<line x1="97.5" y1="1303" x2="101.3" y2="1303" stroke="#000" stroke-width="2"/>
<line x1="605.5" y1="1303" x2="601.7" y2="1303" stroke="#000" stroke-width="2"/>
<line x1="97.5" y1="1269" x2="105" y2="1269" stroke="#000" stroke-width="2"/>
<line x1="605.5" y1="1269" x2="598" y2="1269" stroke="#000" stroke-width="2"/>
<line x1="97.5" y1="1235" x2="101.3" y2="1235" stroke="#000" stroke-width="2"/>
<line x1="605.5" y1="1235" x2="601.7" y2="1235" stroke="#000" stroke-width="2"/>
<line x1="97.5" y1="1643" x2="97.5" y2="1635.5" stroke="#000" stroke-width="2"/>
<line x1="97.5" y1="1235" x2="97.5" y2="1242.5" stroke="#000" stroke-width="2"/>
<line x1="182.17" y1="1643" x2="182.17" y2="1639.2" stroke="#000" stroke-width="2"/>
<line x1="182.17" y1="1235" x2="182.17" y2="1238.8" stroke="#000" stroke-width="2"/>
<line x1="266.83" y1="1643" x2="266.83" y2="1635.5" stroke="#000" stroke-width="2"/>
<line x1="266.83" y1="1235" x2="266.83" y2="1242.5" stroke="#000" stroke-width="2"/>
<line x1="351.5" y1="1643" x2="351.5" y2="1639.2" stroke="#000" stroke-width="2"/>
<line x1="351.5" y1="1235" x2="351.5" y2="1238.8" stroke="#000" stroke-width="2"/>
<line x1="436.17" y1="1643" x2="436.17" y2="1635.5" stroke="#000" stroke-width="2"/>
<line x1="436.17" y1="1235" x2="436.17" y2="1242.5" stroke="#000" stroke-width="2"/>
<line x1="520.83" y1="1643" x2="520.83" y2="1639.2" stroke="#000" stroke-width="2"/>
<line x1="520.83" y1="1235" x2="520.83" y2="1238.8" stroke="#000" stroke-width="2"/>
<line x1="605.5" y1="1643" x2="605.5" y2="1635.5" stroke="#000" stroke-width="2"/>
<line x1="605.5" y1="1235" x2="605.5" y2="1242.5" stroke="#000" stroke-width="2"/>
<rect x="97.5" y="1235" width="508" height="408" fill="none" stroke="#000" stroke-width="2.8"/>
<rect x="93.8" y="1513" width="512.2" height="30.6" fill="rgb(252,196,28)" fill-opacity="0.45"/>
<g transform="matrix(0.9620 0 0 1.0580 -251.45 1299.75)"><text stroke="#000" stroke-width="0.4" x="300" y="300" font-size="28">0.21</text></g>
<g transform="matrix(0.9620 0 0 1.0580 -251.45 1231.75)"><text stroke="#000" stroke-width="0.4" x="300" y="300" font-size="28">0.22</text></g>
<g transform="matrix(0.9620 0 0 1.0580 -251.45 1163.75)"><text stroke="#000" stroke-width="0.4" x="300" y="300" font-size="28">0.23</text></g>
<g transform="matrix(0.9620 0 0 1.0580 -251.45 1095.75)"><text stroke="#000" stroke-width="0.4" x="300" y="300" font-size="28">0.24</text></g>
<g transform="matrix(0.9620 0 0 1.0580 -251.45 1027.75)"><text stroke="#000" stroke-width="0.4" x="300" y="300" font-size="28">0.25</text></g>
<g transform="matrix(0.9620 0 0 1.0580 -251.45 959.75)"><text stroke="#000" stroke-width="0.4" x="300" y="300" font-size="28">0.26</text></g>
<g transform="matrix(0.9620 0 0 1.0580 326.08 1299.85)"><text stroke="#000" stroke-width="0.4" x="300" y="300" font-size="28">1367</text></g>
<g transform="matrix(0.9620 0 0 1.0580 326.08 1231.85)"><text stroke="#000" stroke-width="0.4" x="300" y="300" font-size="28">1305</text></g>
<g transform="matrix(0.9620 0 0 1.0580 326.08 1163.85)"><text stroke="#000" stroke-width="0.4" x="300" y="300" font-size="28">1248</text></g>
<g transform="matrix(0.9620 0 0 1.0580 326.08 1095.85)"><text stroke="#000" stroke-width="0.4" x="300" y="300" font-size="28">1196</text></g>
<g transform="matrix(0.9620 0 0 1.0580 326.08 1027.85)"><text stroke="#000" stroke-width="0.4" x="300" y="300" font-size="28">1148</text></g>
<g transform="matrix(0.9620 0 0 1.0580 326.08 959.85)"><text stroke="#000" stroke-width="0.4" x="300" y="300" font-size="28">1104</text></g>
<g transform="matrix(0.9620 0 0 1.0580 -209.76 1355.50)"><text stroke="#000" stroke-width="0.4" x="300" y="300" font-size="28">0.2</text></g>
<g transform="matrix(0.9620 0 0 1.0580 -40.43 1355.50)"><text stroke="#000" stroke-width="0.4" x="300" y="300" font-size="28">0.3</text></g>
<g transform="matrix(0.9620 0 0 1.0580 128.91 1355.50)"><text stroke="#000" stroke-width="0.4" x="300" y="300" font-size="28">0.4</text></g>
<g transform="matrix(0.9620 0 0 1.0580 298.24 1355.50)"><text stroke="#000" stroke-width="0.4" x="300" y="300" font-size="28">0.5</text></g>
<g transform="matrix(0.9615 0 0 1.0636 -5.96 1384.84)"><text stroke="#000" stroke-width="0.4" x="300" y="300" font-size="34"><tspan font-style="italic">k</tspan><tspan font-size="23" dy="9">x</tspan><tspan dy="-9"> (2π/</tspan><tspan font-style="italic">a</tspan>)</text></g>
<g transform="matrix(0.9037 0 0 0.9067 -245.21 1220.59)"><text stroke="#000" stroke-width="0.4" x="300" y="300" font-size="36" transform="rotate(-90 300 300)"><tspan font-style="italic">ωa</tspan>/2π<tspan font-style="italic">c</tspan></text></g>
<rect x="316.8" y="1234.8" width="283.4" height="219.3" fill="#fff" stroke="#000" stroke-width="3.3"/>
<clipPath id="pcC"><rect x="336" y="1241.2" width="59" height="201.6"/></clipPath>
<rect x="336" y="1241.2" width="59" height="201.6" fill="#808080"/>
<g clip-path="url(#pcC)">
<circle cx="344.2" cy="1251" r="6.4" fill="#c8c8c8" stroke="#a02828" stroke-width="1" stroke-dasharray="2 1.6"/>
<circle cx="365" cy="1251" r="6.4" fill="#c8c8c8" stroke="#a02828" stroke-width="1" stroke-dasharray="2 1.6"/>
<circle cx="385.8" cy="1251" r="6.4" fill="#c8c8c8" stroke="#a02828" stroke-width="1" stroke-dasharray="2 1.6"/>
<circle cx="334.4" cy="1269.3" r="6.4" fill="#c8c8c8" stroke="#a02828" stroke-width="1" stroke-dasharray="2 1.6"/>
<circle cx="355.2" cy="1269.3" r="6.4" fill="#c8c8c8" stroke="#a02828" stroke-width="1" stroke-dasharray="2 1.6"/>
<circle cx="376" cy="1269.3" r="6.4" fill="#c8c8c8" stroke="#a02828" stroke-width="1" stroke-dasharray="2 1.6"/>
<circle cx="396.8" cy="1269.3" r="6.4" fill="#c8c8c8" stroke="#a02828" stroke-width="1" stroke-dasharray="2 1.6"/>
<circle cx="348.9" cy="1287.5" r="7.2" fill="#006400" stroke="#a02828" stroke-width="1" stroke-dasharray="2 1.6"/>
<circle cx="369.9" cy="1287.5" r="7.2" fill="#006400" stroke="#a02828" stroke-width="1" stroke-dasharray="2 1.6"/>
<circle cx="390.6" cy="1287.5" r="7.2" fill="#006400" stroke="#a02828" stroke-width="1" stroke-dasharray="2 1.6"/>
<circle cx="334.4" cy="1305.7" r="7.6" fill="#ffff00" stroke="#a02828" stroke-width="1" stroke-dasharray="2 1.6"/>
<circle cx="355.2" cy="1305.7" r="7.6" fill="#ffff00" stroke="#a02828" stroke-width="1" stroke-dasharray="2 1.6"/>
<circle cx="376" cy="1305.7" r="7.6" fill="#ffff00" stroke="#a02828" stroke-width="1" stroke-dasharray="2 1.6"/>
<circle cx="396.8" cy="1305.7" r="7.6" fill="#ffff00" stroke="#a02828" stroke-width="1" stroke-dasharray="2 1.6"/>
<circle cx="344.2" cy="1324.4" r="5.8" fill="#1a7a8a" stroke="#a02828" stroke-width="1" stroke-dasharray="2 1.6"/>
<circle cx="365" cy="1324.4" r="5.8" fill="#1a7a8a" stroke="#a02828" stroke-width="1" stroke-dasharray="2 1.6"/>
<circle cx="385.8" cy="1324.4" r="5.8" fill="#1a7a8a" stroke="#a02828" stroke-width="1" stroke-dasharray="2 1.6"/>
<circle cx="344.2" cy="1360.9" r="5.8" fill="#1a7a8a" stroke="#a02828" stroke-width="1" stroke-dasharray="2 1.6"/>
<circle cx="365" cy="1360.9" r="5.8" fill="#1a7a8a" stroke="#a02828" stroke-width="1" stroke-dasharray="2 1.6"/>
<circle cx="385.8" cy="1360.9" r="5.8" fill="#1a7a8a" stroke="#a02828" stroke-width="1" stroke-dasharray="2 1.6"/>
<circle cx="334.4" cy="1378.7" r="7.6" fill="#ffff00" stroke="#a02828" stroke-width="1" stroke-dasharray="2 1.6"/>
<circle cx="355.2" cy="1378.7" r="7.6" fill="#ffff00" stroke="#a02828" stroke-width="1" stroke-dasharray="2 1.6"/>
<circle cx="376" cy="1378.7" r="7.6" fill="#ffff00" stroke="#a02828" stroke-width="1" stroke-dasharray="2 1.6"/>
<circle cx="396.8" cy="1378.7" r="7.6" fill="#ffff00" stroke="#a02828" stroke-width="1" stroke-dasharray="2 1.6"/>
<circle cx="348.9" cy="1397.3" r="7.2" fill="#006400" stroke="#a02828" stroke-width="1" stroke-dasharray="2 1.6"/>
<circle cx="369.9" cy="1397.3" r="7.2" fill="#006400" stroke="#a02828" stroke-width="1" stroke-dasharray="2 1.6"/>
<circle cx="390.6" cy="1397.3" r="7.2" fill="#006400" stroke="#a02828" stroke-width="1" stroke-dasharray="2 1.6"/>
<circle cx="334.4" cy="1415.6" r="6.4" fill="#c8c8c8" stroke="#a02828" stroke-width="1" stroke-dasharray="2 1.6"/>
<circle cx="355.2" cy="1415.6" r="6.4" fill="#c8c8c8" stroke="#a02828" stroke-width="1" stroke-dasharray="2 1.6"/>
<circle cx="376" cy="1415.6" r="6.4" fill="#c8c8c8" stroke="#a02828" stroke-width="1" stroke-dasharray="2 1.6"/>
<circle cx="396.8" cy="1415.6" r="6.4" fill="#c8c8c8" stroke="#a02828" stroke-width="1" stroke-dasharray="2 1.6"/>
<circle cx="344.2" cy="1433.8" r="6.4" fill="#c8c8c8" stroke="#a02828" stroke-width="1" stroke-dasharray="2 1.6"/>
<circle cx="365" cy="1433.8" r="6.4" fill="#c8c8c8" stroke="#a02828" stroke-width="1" stroke-dasharray="2 1.6"/>
<circle cx="385.8" cy="1433.8" r="6.4" fill="#c8c8c8" stroke="#a02828" stroke-width="1" stroke-dasharray="2 1.6"/>
</g>
<g transform="matrix(1.0432 0 0 1.0615 128.44 950.44)"><text stroke="#3c3c3c" stroke-width="0.4" x="300" y="300" font-size="37" font-weight="bold" fill="#3c3c3c">LVLD2</text></g>
<line x1="441.2" y1="1273.6" x2="560.7" y2="1273.6" stroke="#3c3c3c" stroke-width="2.6"/>
<g transform="matrix(1.0112 0 0 1.0400 130.74 992.68)"><text stroke="#00b050" stroke-width="0.4" x="300" y="300" font-size="32" fill="#00b050"><tspan font-style="italic">r</tspan><tspan font-style="italic" font-size="22" dy="8">3</tspan><tspan dy="-8"> =1.1</tspan><tspan font-style="italic">r</tspan></text></g>
<g transform="matrix(1.0056 0 0 1.0367 132.42 1030.11)"><text stroke="#31859c" stroke-width="0.4" x="300" y="300" font-size="32" fill="#31859c"><tspan font-style="italic">r</tspan><tspan font-style="italic" font-size="22" dy="8">1</tspan><tspan dy="-8"> =0.9</tspan><tspan font-style="italic">r</tspan></text></g>
<g transform="matrix(1.0168 0 0 1.0167 129.05 1084.47)"><text stroke="#ffc000" stroke-width="0.4" x="300" y="300" font-size="32" fill="#ffc000"><tspan font-style="italic">r</tspan><tspan font-style="italic" font-size="22" dy="8">2</tspan><tspan dy="-8"> =1.2</tspan><tspan font-style="italic">r</tspan></text></g>
<line x1="390.3" y1="1285.4" x2="420.3" y2="1285.4" stroke="#00b050" stroke-width="2.2"/>
<line x1="390.3" y1="1292.2" x2="420.3" y2="1292.2" stroke="#00b050" stroke-width="2.2"/>
<line x1="416.5" y1="1269.7" x2="416.5" y2="1276.4" stroke="#00b050" stroke-width="1.8"/>
<line x1="416.5" y1="1301.2" x2="416.5" y2="1307.2" stroke="#00b050" stroke-width="1.8"/>
<path d="M416.5 1284.9 L411.5 1275.9 L421.5 1275.9Z" fill="#00b050"/>
<path d="M416.5 1292.7 L411.5 1301.7 L421.5 1301.7Z" fill="#00b050"/>
<line x1="382.8" y1="1321.2" x2="413.9" y2="1321.2" stroke="#31859c" stroke-width="2.2"/>
<line x1="382.8" y1="1327.6" x2="413.9" y2="1327.6" stroke="#31859c" stroke-width="2.2"/>
<line x1="407.5" y1="1306.2" x2="407.5" y2="1312.2" stroke="#31859c" stroke-width="1.8"/>
<line x1="407.5" y1="1336.6" x2="407.5" y2="1340.5" stroke="#31859c" stroke-width="1.8"/>
<path d="M407.5 1320.7 L402.5 1311.7 L412.5 1311.7Z" fill="#31859c"/>
<path d="M407.5 1328.1 L402.5 1337.1 L412.5 1337.1Z" fill="#31859c"/>
<line x1="374.2" y1="1371.6" x2="411.8" y2="1371.6" stroke="#ffc000" stroke-width="2.2"/>
<line x1="374.2" y1="1378" x2="411.8" y2="1378" stroke="#ffc000" stroke-width="2.2"/>
<line x1="403.2" y1="1356.6" x2="403.2" y2="1362.6" stroke="#ffc000" stroke-width="1.8"/>
<line x1="403.2" y1="1387" x2="403.2" y2="1393" stroke="#ffc000" stroke-width="1.8"/>
<path d="M403.2 1371.1 L398.2 1362.1 L408.2 1362.1Z" fill="#ffc000"/>
<path d="M403.2 1378.5 L398.2 1387.5 L408.2 1387.5Z" fill="#ffc000"/>
<clipPath id="rc"><rect x="821.2" y="1325.5" width="538.8" height="241.4"/></clipPath>
<g clip-path="url(#rc)">
<path d="M821.4 1547.8 L877.5 1541.9 L914.2 1529 L936.2 1496.7 L941.7 1422.9 L944.5 1365.9 L945.1 1320 L945.8 1320 L946.3 1375.1 L950 1415.5 L959.2 1453.2 L969.3 1474.3 L983.1 1488.1 L998.7 1498.2 L1015.2 1505.5 L1025.3 1509.2 L1060 1516.1 L1104.1 1522.2 L1148.2 1526 L1192.2 1527.1 L1236.3 1525.6 L1272.7 1522.2 L1296.9 1513 L1316.8 1474.9 L1324.5 1403.7" fill="none" stroke="#ff3838" stroke-width="3.2" stroke-linejoin="round"/>
</g>
<line x1="821.2" y1="1566.9" x2="828.2" y2="1566.9" stroke="#000" stroke-width="1.9"/>
<line x1="821.2" y1="1536.73" x2="824.7" y2="1536.73" stroke="#000" stroke-width="1.9"/>
<line x1="821.2" y1="1506.55" x2="828.2" y2="1506.55" stroke="#000" stroke-width="1.9"/>
<line x1="821.2" y1="1476.38" x2="824.7" y2="1476.38" stroke="#000" stroke-width="1.9"/>
<line x1="821.2" y1="1446.2" x2="828.2" y2="1446.2" stroke="#000" stroke-width="1.9"/>
<line x1="821.2" y1="1416.03" x2="824.7" y2="1416.03" stroke="#000" stroke-width="1.9"/>
<line x1="821.2" y1="1385.85" x2="828.2" y2="1385.85" stroke="#000" stroke-width="1.9"/>
<line x1="821.2" y1="1355.67" x2="824.7" y2="1355.67" stroke="#000" stroke-width="1.9"/>
<line x1="821.2" y1="1325.5" x2="828.2" y2="1325.5" stroke="#000" stroke-width="1.9"/>
<line x1="875.08" y1="1566.9" x2="875.08" y2="1559.9" stroke="#000" stroke-width="1.9"/>
<line x1="928.96" y1="1566.9" x2="928.96" y2="1563.4" stroke="#000" stroke-width="1.9"/>
<line x1="982.84" y1="1566.9" x2="982.84" y2="1559.9" stroke="#000" stroke-width="1.9"/>
<line x1="1036.72" y1="1566.9" x2="1036.72" y2="1563.4" stroke="#000" stroke-width="1.9"/>
<line x1="1090.6" y1="1566.9" x2="1090.6" y2="1559.9" stroke="#000" stroke-width="1.9"/>
<line x1="1144.48" y1="1566.9" x2="1144.48" y2="1563.4" stroke="#000" stroke-width="1.9"/>
<line x1="1198.36" y1="1566.9" x2="1198.36" y2="1559.9" stroke="#000" stroke-width="1.9"/>
<line x1="1252.24" y1="1566.9" x2="1252.24" y2="1563.4" stroke="#000" stroke-width="1.9"/>
<line x1="1306.12" y1="1566.9" x2="1306.12" y2="1559.9" stroke="#000" stroke-width="1.9"/>
<rect x="821.2" y="1325.5" width="538.8" height="241.4" fill="none" stroke="#000" stroke-width="2"/>
<rect x="1025.3" y="1324.5" width="270.5" height="243.4" fill="rgb(252,196,28)" fill-opacity="0.45"/>
<g transform="matrix(0.9620 0 0 1.0580 508.07 1258.15)"><text stroke="#000" stroke-width="0.4" x="300" y="300" font-size="28">0</text></g>
<g transform="matrix(0.9620 0 0 1.0580 493.64 1197.80)"><text stroke="#000" stroke-width="0.4" x="300" y="300" font-size="28">20</text></g>
<g transform="matrix(0.9620 0 0 1.0580 493.64 1137.45)"><text stroke="#000" stroke-width="0.4" x="300" y="300" font-size="28">40</text></g>
<g transform="matrix(0.9620 0 0 1.0580 493.64 1077.10)"><text stroke="#000" stroke-width="0.4" x="300" y="300" font-size="28">60</text></g>
<g transform="matrix(0.9620 0 0 1.0580 493.64 1016.75)"><text stroke="#000" stroke-width="0.4" x="300" y="300" font-size="28">80</text></g>
<g transform="matrix(0.9620 0 0 1.0580 556.20 1279.80)"><text stroke="#000" stroke-width="0.4" x="300" y="300" font-size="28">1270</text></g>
<g transform="matrix(0.9620 0 0 1.0580 663.96 1279.80)"><text stroke="#000" stroke-width="0.4" x="300" y="300" font-size="28">1280</text></g>
<g transform="matrix(0.9620 0 0 1.0580 771.72 1279.80)"><text stroke="#000" stroke-width="0.4" x="300" y="300" font-size="28">1290</text></g>
<g transform="matrix(0.9620 0 0 1.0580 879.48 1279.80)"><text stroke="#000" stroke-width="0.4" x="300" y="300" font-size="28">1300</text></g>
<g transform="matrix(0.9620 0 0 1.0580 987.24 1279.80)"><text stroke="#000" stroke-width="0.4" x="300" y="300" font-size="28">1310</text></g>
<g transform="matrix(1.0203 0 0 1.0419 654.81 1320.63)"><text stroke="#000" stroke-width="0.4" x="300" y="300" font-size="34">Wavelength (nm)</text></g>
<g transform="matrix(1.0484 0 0 1.0231 397.15 954.92)"><text stroke="#000" stroke-width="0.4" x="300" y="600" font-size="34" transform="rotate(-90 300 600)">Wavelength (nm)</text></g>
<g transform="matrix(1.0161 0 0 1.0191 464.75 928.76)"><text stroke="#000" stroke-width="0.4" x="300" y="600" font-size="34" transform="rotate(-90 300 600)">Group index</text></g>
<g transform="matrix(1.0829 0 0 0.9325 763.64 1098.00)"><text stroke="#ff0000" stroke-width="0.4" x="300" y="300" font-size="37" fill="#ff0000"><tspan font-family="Liberation Serif" font-style="italic">n</tspan><tspan font-family="Liberation Serif" font-style="italic" font-size="27" dy="8">g</tspan><tspan dy="-8">=15.0</tspan></text></g>
<g transform="matrix(1.0323 0 0 1.0000 793.84 1128.50)"><text stroke="#ff0000" stroke-width="0.4" x="300" y="300" font-size="37" fill="#ff0000">25 nm</text></g>
<line x1="1039" y1="1447.5" x2="1278" y2="1447.5" stroke="#ff0000" stroke-width="3.6"/>
<path d="M1025.2 1447.5 L1041 1439.4 L1041 1455.6Z" fill="#ff0000"/>
<path d="M1291.6 1447.5 L1275.6 1439.4 L1275.6 1455.6Z" fill="#ff0000"/>
</svg></body></html>
